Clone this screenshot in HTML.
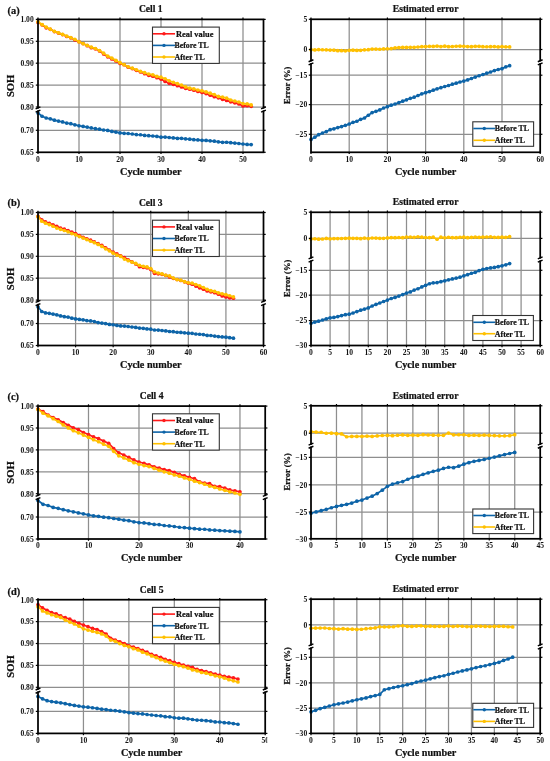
<!DOCTYPE html>
<html><head><meta charset="utf-8"><style>
html,body{margin:0;padding:0;background:#fff;}
body{width:550px;height:761px;overflow:hidden;}
svg{display:block;will-change:transform;}
text{font-family:"Liberation Serif",serif;fill:#111;}
</style></head><body>
<svg width="550" height="761" viewBox="0 0 550 761" font-family="Liberation Serif, serif">
<rect width="550" height="761" fill="#fff"/>
<line x1="79.00" y1="19.40" x2="79.00" y2="152.30" stroke="#8e8e8e" stroke-width="1.25"/>
<line x1="120.00" y1="19.40" x2="120.00" y2="152.30" stroke="#8e8e8e" stroke-width="1.25"/>
<line x1="161.00" y1="19.40" x2="161.00" y2="152.30" stroke="#8e8e8e" stroke-width="1.25"/>
<line x1="202.00" y1="19.40" x2="202.00" y2="152.30" stroke="#8e8e8e" stroke-width="1.25"/>
<line x1="243.00" y1="19.40" x2="243.00" y2="152.30" stroke="#8e8e8e" stroke-width="1.25"/>
<line x1="38.00" y1="41.30" x2="263.50" y2="41.30" stroke="#8e8e8e" stroke-width="1.25"/>
<line x1="38.00" y1="63.20" x2="263.50" y2="63.20" stroke="#8e8e8e" stroke-width="1.25"/>
<line x1="38.00" y1="85.10" x2="263.50" y2="85.10" stroke="#8e8e8e" stroke-width="1.25"/>
<line x1="38.00" y1="107.00" x2="263.50" y2="107.00" stroke="#8e8e8e" stroke-width="1.25"/>
<line x1="38.00" y1="130.30" x2="263.50" y2="130.30" stroke="#8e8e8e" stroke-width="1.25"/>
<polyline points="38.00,22.38 42.10,24.86 46.20,27.81 50.30,29.30 54.40,31.53 58.50,33.11 62.60,34.59 66.70,36.51 70.80,37.78 74.90,40.00 79.00,41.70 83.10,43.56 87.20,45.65 91.30,47.63 95.40,48.84 99.50,50.91 103.60,53.99 107.70,56.81 111.80,58.95 115.90,60.93 120.00,63.43 124.10,64.68 128.20,67.15 132.30,68.60 136.40,70.35 140.50,71.93 144.60,73.67 148.70,75.32 152.80,76.18 156.90,77.76 161.00,79.10 165.10,81.41 169.20,83.33 173.30,84.34 177.40,85.69 181.50,86.89 185.60,88.33 189.70,89.20 193.80,90.17 197.90,91.46 202.00,92.47 206.10,93.61 210.20,95.21 214.30,96.64 218.40,97.82 222.50,99.30 226.60,100.52 230.70,101.86 234.80,102.86 238.90,104.00 243.00,105.94 247.10,105.73 251.20,106.34" fill="none" stroke="#ff1a1a" stroke-width="1.70" stroke-linejoin="round"/>
<circle cx="38.00" cy="22.38" r="1.85" fill="#ff1a1a"/>
<circle cx="42.10" cy="24.86" r="1.85" fill="#ff1a1a"/>
<circle cx="46.20" cy="27.81" r="1.85" fill="#ff1a1a"/>
<circle cx="50.30" cy="29.30" r="1.85" fill="#ff1a1a"/>
<circle cx="54.40" cy="31.53" r="1.85" fill="#ff1a1a"/>
<circle cx="58.50" cy="33.11" r="1.85" fill="#ff1a1a"/>
<circle cx="62.60" cy="34.59" r="1.85" fill="#ff1a1a"/>
<circle cx="66.70" cy="36.51" r="1.85" fill="#ff1a1a"/>
<circle cx="70.80" cy="37.78" r="1.85" fill="#ff1a1a"/>
<circle cx="74.90" cy="40.00" r="1.85" fill="#ff1a1a"/>
<circle cx="79.00" cy="41.70" r="1.85" fill="#ff1a1a"/>
<circle cx="83.10" cy="43.56" r="1.85" fill="#ff1a1a"/>
<circle cx="87.20" cy="45.65" r="1.85" fill="#ff1a1a"/>
<circle cx="91.30" cy="47.63" r="1.85" fill="#ff1a1a"/>
<circle cx="95.40" cy="48.84" r="1.85" fill="#ff1a1a"/>
<circle cx="99.50" cy="50.91" r="1.85" fill="#ff1a1a"/>
<circle cx="103.60" cy="53.99" r="1.85" fill="#ff1a1a"/>
<circle cx="107.70" cy="56.81" r="1.85" fill="#ff1a1a"/>
<circle cx="111.80" cy="58.95" r="1.85" fill="#ff1a1a"/>
<circle cx="115.90" cy="60.93" r="1.85" fill="#ff1a1a"/>
<circle cx="120.00" cy="63.43" r="1.85" fill="#ff1a1a"/>
<circle cx="124.10" cy="64.68" r="1.85" fill="#ff1a1a"/>
<circle cx="128.20" cy="67.15" r="1.85" fill="#ff1a1a"/>
<circle cx="132.30" cy="68.60" r="1.85" fill="#ff1a1a"/>
<circle cx="136.40" cy="70.35" r="1.85" fill="#ff1a1a"/>
<circle cx="140.50" cy="71.93" r="1.85" fill="#ff1a1a"/>
<circle cx="144.60" cy="73.67" r="1.85" fill="#ff1a1a"/>
<circle cx="148.70" cy="75.32" r="1.85" fill="#ff1a1a"/>
<circle cx="152.80" cy="76.18" r="1.85" fill="#ff1a1a"/>
<circle cx="156.90" cy="77.76" r="1.85" fill="#ff1a1a"/>
<circle cx="161.00" cy="79.10" r="1.85" fill="#ff1a1a"/>
<circle cx="165.10" cy="81.41" r="1.85" fill="#ff1a1a"/>
<circle cx="169.20" cy="83.33" r="1.85" fill="#ff1a1a"/>
<circle cx="173.30" cy="84.34" r="1.85" fill="#ff1a1a"/>
<circle cx="177.40" cy="85.69" r="1.85" fill="#ff1a1a"/>
<circle cx="181.50" cy="86.89" r="1.85" fill="#ff1a1a"/>
<circle cx="185.60" cy="88.33" r="1.85" fill="#ff1a1a"/>
<circle cx="189.70" cy="89.20" r="1.85" fill="#ff1a1a"/>
<circle cx="193.80" cy="90.17" r="1.85" fill="#ff1a1a"/>
<circle cx="197.90" cy="91.46" r="1.85" fill="#ff1a1a"/>
<circle cx="202.00" cy="92.47" r="1.85" fill="#ff1a1a"/>
<circle cx="206.10" cy="93.61" r="1.85" fill="#ff1a1a"/>
<circle cx="210.20" cy="95.21" r="1.85" fill="#ff1a1a"/>
<circle cx="214.30" cy="96.64" r="1.85" fill="#ff1a1a"/>
<circle cx="218.40" cy="97.82" r="1.85" fill="#ff1a1a"/>
<circle cx="222.50" cy="99.30" r="1.85" fill="#ff1a1a"/>
<circle cx="226.60" cy="100.52" r="1.85" fill="#ff1a1a"/>
<circle cx="230.70" cy="101.86" r="1.85" fill="#ff1a1a"/>
<circle cx="234.80" cy="102.86" r="1.85" fill="#ff1a1a"/>
<circle cx="238.90" cy="104.00" r="1.85" fill="#ff1a1a"/>
<circle cx="243.00" cy="105.94" r="1.85" fill="#ff1a1a"/>
<circle cx="247.10" cy="105.73" r="1.85" fill="#ff1a1a"/>
<circle cx="251.20" cy="106.34" r="1.85" fill="#ff1a1a"/>
<polyline points="38.00,112.93 42.10,116.23 46.20,117.99 50.30,118.87 54.40,120.13 58.50,121.12 62.60,121.97 66.70,123.06 70.80,123.72 74.90,124.85 79.00,125.75 83.10,126.44 87.20,127.08 91.30,127.97 95.40,128.72 99.50,129.19 103.60,129.98 107.70,130.38 111.80,131.40 115.90,132.07 120.00,132.95 124.10,133.32 128.20,133.51 132.30,134.02 136.40,134.62 140.50,134.76 144.60,135.38 148.70,135.63 152.80,136.01 156.90,136.38 161.00,137.13 165.10,137.12 169.20,137.49 173.30,137.88 177.40,138.43 181.50,138.34 185.60,138.83 189.70,139.19 193.80,139.67 197.90,139.95 202.00,140.28 206.10,140.38 210.20,140.84 214.30,141.20 218.40,141.85 222.50,142.28 226.60,142.27 230.70,142.67 234.80,143.09 238.90,143.48 243.00,143.99 247.10,144.39 251.20,144.58" fill="none" stroke="#0d64a8" stroke-width="1.70" stroke-linejoin="round"/>
<circle cx="38.00" cy="112.93" r="1.85" fill="#0d64a8"/>
<circle cx="42.10" cy="116.23" r="1.85" fill="#0d64a8"/>
<circle cx="46.20" cy="117.99" r="1.85" fill="#0d64a8"/>
<circle cx="50.30" cy="118.87" r="1.85" fill="#0d64a8"/>
<circle cx="54.40" cy="120.13" r="1.85" fill="#0d64a8"/>
<circle cx="58.50" cy="121.12" r="1.85" fill="#0d64a8"/>
<circle cx="62.60" cy="121.97" r="1.85" fill="#0d64a8"/>
<circle cx="66.70" cy="123.06" r="1.85" fill="#0d64a8"/>
<circle cx="70.80" cy="123.72" r="1.85" fill="#0d64a8"/>
<circle cx="74.90" cy="124.85" r="1.85" fill="#0d64a8"/>
<circle cx="79.00" cy="125.75" r="1.85" fill="#0d64a8"/>
<circle cx="83.10" cy="126.44" r="1.85" fill="#0d64a8"/>
<circle cx="87.20" cy="127.08" r="1.85" fill="#0d64a8"/>
<circle cx="91.30" cy="127.97" r="1.85" fill="#0d64a8"/>
<circle cx="95.40" cy="128.72" r="1.85" fill="#0d64a8"/>
<circle cx="99.50" cy="129.19" r="1.85" fill="#0d64a8"/>
<circle cx="103.60" cy="129.98" r="1.85" fill="#0d64a8"/>
<circle cx="107.70" cy="130.38" r="1.85" fill="#0d64a8"/>
<circle cx="111.80" cy="131.40" r="1.85" fill="#0d64a8"/>
<circle cx="115.90" cy="132.07" r="1.85" fill="#0d64a8"/>
<circle cx="120.00" cy="132.95" r="1.85" fill="#0d64a8"/>
<circle cx="124.10" cy="133.32" r="1.85" fill="#0d64a8"/>
<circle cx="128.20" cy="133.51" r="1.85" fill="#0d64a8"/>
<circle cx="132.30" cy="134.02" r="1.85" fill="#0d64a8"/>
<circle cx="136.40" cy="134.62" r="1.85" fill="#0d64a8"/>
<circle cx="140.50" cy="134.76" r="1.85" fill="#0d64a8"/>
<circle cx="144.60" cy="135.38" r="1.85" fill="#0d64a8"/>
<circle cx="148.70" cy="135.63" r="1.85" fill="#0d64a8"/>
<circle cx="152.80" cy="136.01" r="1.85" fill="#0d64a8"/>
<circle cx="156.90" cy="136.38" r="1.85" fill="#0d64a8"/>
<circle cx="161.00" cy="137.13" r="1.85" fill="#0d64a8"/>
<circle cx="165.10" cy="137.12" r="1.85" fill="#0d64a8"/>
<circle cx="169.20" cy="137.49" r="1.85" fill="#0d64a8"/>
<circle cx="173.30" cy="137.88" r="1.85" fill="#0d64a8"/>
<circle cx="177.40" cy="138.43" r="1.85" fill="#0d64a8"/>
<circle cx="181.50" cy="138.34" r="1.85" fill="#0d64a8"/>
<circle cx="185.60" cy="138.83" r="1.85" fill="#0d64a8"/>
<circle cx="189.70" cy="139.19" r="1.85" fill="#0d64a8"/>
<circle cx="193.80" cy="139.67" r="1.85" fill="#0d64a8"/>
<circle cx="197.90" cy="139.95" r="1.85" fill="#0d64a8"/>
<circle cx="202.00" cy="140.28" r="1.85" fill="#0d64a8"/>
<circle cx="206.10" cy="140.38" r="1.85" fill="#0d64a8"/>
<circle cx="210.20" cy="140.84" r="1.85" fill="#0d64a8"/>
<circle cx="214.30" cy="141.20" r="1.85" fill="#0d64a8"/>
<circle cx="218.40" cy="141.85" r="1.85" fill="#0d64a8"/>
<circle cx="222.50" cy="142.28" r="1.85" fill="#0d64a8"/>
<circle cx="226.60" cy="142.27" r="1.85" fill="#0d64a8"/>
<circle cx="230.70" cy="142.67" r="1.85" fill="#0d64a8"/>
<circle cx="234.80" cy="143.09" r="1.85" fill="#0d64a8"/>
<circle cx="238.90" cy="143.48" r="1.85" fill="#0d64a8"/>
<circle cx="243.00" cy="143.99" r="1.85" fill="#0d64a8"/>
<circle cx="247.10" cy="144.39" r="1.85" fill="#0d64a8"/>
<circle cx="251.20" cy="144.58" r="1.85" fill="#0d64a8"/>
<polyline points="38.00,21.65 42.10,24.54 46.20,27.11 50.30,29.15 54.40,31.32 58.50,32.83 62.60,34.41 66.70,36.08 70.80,37.72 74.90,39.24 79.00,41.78 83.10,43.55 87.20,45.46 91.30,47.11 95.40,48.52 99.50,50.53 103.60,53.12 107.70,56.09 111.80,58.09 115.90,60.35 120.00,62.70 124.10,64.66 128.20,66.79 132.30,68.19 136.40,69.75 140.50,71.31 144.60,72.72 148.70,74.00 152.80,74.87 156.90,76.41 161.00,77.18 165.10,78.75 169.20,80.73 173.30,82.24 177.40,83.70 181.50,84.99 185.60,86.94 189.70,88.15 193.80,88.88 197.90,89.99 202.00,90.81 206.10,91.92 210.20,93.19 214.30,94.59 218.40,96.43 222.50,97.06 226.60,98.07 230.70,100.02 234.80,101.02 238.90,102.00 243.00,103.53 247.10,103.87 251.20,104.92" fill="none" stroke="#ffc000" stroke-width="1.70" stroke-linejoin="round"/>
<circle cx="38.00" cy="21.65" r="1.85" fill="#ffc000"/>
<circle cx="42.10" cy="24.54" r="1.85" fill="#ffc000"/>
<circle cx="46.20" cy="27.11" r="1.85" fill="#ffc000"/>
<circle cx="50.30" cy="29.15" r="1.85" fill="#ffc000"/>
<circle cx="54.40" cy="31.32" r="1.85" fill="#ffc000"/>
<circle cx="58.50" cy="32.83" r="1.85" fill="#ffc000"/>
<circle cx="62.60" cy="34.41" r="1.85" fill="#ffc000"/>
<circle cx="66.70" cy="36.08" r="1.85" fill="#ffc000"/>
<circle cx="70.80" cy="37.72" r="1.85" fill="#ffc000"/>
<circle cx="74.90" cy="39.24" r="1.85" fill="#ffc000"/>
<circle cx="79.00" cy="41.78" r="1.85" fill="#ffc000"/>
<circle cx="83.10" cy="43.55" r="1.85" fill="#ffc000"/>
<circle cx="87.20" cy="45.46" r="1.85" fill="#ffc000"/>
<circle cx="91.30" cy="47.11" r="1.85" fill="#ffc000"/>
<circle cx="95.40" cy="48.52" r="1.85" fill="#ffc000"/>
<circle cx="99.50" cy="50.53" r="1.85" fill="#ffc000"/>
<circle cx="103.60" cy="53.12" r="1.85" fill="#ffc000"/>
<circle cx="107.70" cy="56.09" r="1.85" fill="#ffc000"/>
<circle cx="111.80" cy="58.09" r="1.85" fill="#ffc000"/>
<circle cx="115.90" cy="60.35" r="1.85" fill="#ffc000"/>
<circle cx="120.00" cy="62.70" r="1.85" fill="#ffc000"/>
<circle cx="124.10" cy="64.66" r="1.85" fill="#ffc000"/>
<circle cx="128.20" cy="66.79" r="1.85" fill="#ffc000"/>
<circle cx="132.30" cy="68.19" r="1.85" fill="#ffc000"/>
<circle cx="136.40" cy="69.75" r="1.85" fill="#ffc000"/>
<circle cx="140.50" cy="71.31" r="1.85" fill="#ffc000"/>
<circle cx="144.60" cy="72.72" r="1.85" fill="#ffc000"/>
<circle cx="148.70" cy="74.00" r="1.85" fill="#ffc000"/>
<circle cx="152.80" cy="74.87" r="1.85" fill="#ffc000"/>
<circle cx="156.90" cy="76.41" r="1.85" fill="#ffc000"/>
<circle cx="161.00" cy="77.18" r="1.85" fill="#ffc000"/>
<circle cx="165.10" cy="78.75" r="1.85" fill="#ffc000"/>
<circle cx="169.20" cy="80.73" r="1.85" fill="#ffc000"/>
<circle cx="173.30" cy="82.24" r="1.85" fill="#ffc000"/>
<circle cx="177.40" cy="83.70" r="1.85" fill="#ffc000"/>
<circle cx="181.50" cy="84.99" r="1.85" fill="#ffc000"/>
<circle cx="185.60" cy="86.94" r="1.85" fill="#ffc000"/>
<circle cx="189.70" cy="88.15" r="1.85" fill="#ffc000"/>
<circle cx="193.80" cy="88.88" r="1.85" fill="#ffc000"/>
<circle cx="197.90" cy="89.99" r="1.85" fill="#ffc000"/>
<circle cx="202.00" cy="90.81" r="1.85" fill="#ffc000"/>
<circle cx="206.10" cy="91.92" r="1.85" fill="#ffc000"/>
<circle cx="210.20" cy="93.19" r="1.85" fill="#ffc000"/>
<circle cx="214.30" cy="94.59" r="1.85" fill="#ffc000"/>
<circle cx="218.40" cy="96.43" r="1.85" fill="#ffc000"/>
<circle cx="222.50" cy="97.06" r="1.85" fill="#ffc000"/>
<circle cx="226.60" cy="98.07" r="1.85" fill="#ffc000"/>
<circle cx="230.70" cy="100.02" r="1.85" fill="#ffc000"/>
<circle cx="234.80" cy="101.02" r="1.85" fill="#ffc000"/>
<circle cx="238.90" cy="102.00" r="1.85" fill="#ffc000"/>
<circle cx="243.00" cy="103.53" r="1.85" fill="#ffc000"/>
<circle cx="247.10" cy="103.87" r="1.85" fill="#ffc000"/>
<circle cx="251.20" cy="104.92" r="1.85" fill="#ffc000"/>
<rect x="38.00" y="19.40" width="225.50" height="132.90" fill="none" stroke="#000" stroke-width="1.75"/>
<line x1="35.80" y1="19.40" x2="38.00" y2="19.40" stroke="#000" stroke-width="1.2"/>
<line x1="263.50" y1="19.40" x2="265.70" y2="19.40" stroke="#000" stroke-width="1.2"/>
<text x="33.70" y="22.20" font-size="7.60" font-weight="bold" text-anchor="end" >1.00</text>
<line x1="35.80" y1="41.30" x2="38.00" y2="41.30" stroke="#000" stroke-width="1.2"/>
<line x1="263.50" y1="41.30" x2="265.70" y2="41.30" stroke="#000" stroke-width="1.2"/>
<text x="33.70" y="44.10" font-size="7.60" font-weight="bold" text-anchor="end" >0.95</text>
<line x1="35.80" y1="63.20" x2="38.00" y2="63.20" stroke="#000" stroke-width="1.2"/>
<line x1="263.50" y1="63.20" x2="265.70" y2="63.20" stroke="#000" stroke-width="1.2"/>
<text x="33.70" y="66.00" font-size="7.60" font-weight="bold" text-anchor="end" >0.90</text>
<line x1="35.80" y1="85.10" x2="38.00" y2="85.10" stroke="#000" stroke-width="1.2"/>
<line x1="263.50" y1="85.10" x2="265.70" y2="85.10" stroke="#000" stroke-width="1.2"/>
<text x="33.70" y="87.90" font-size="7.60" font-weight="bold" text-anchor="end" >0.85</text>
<line x1="35.80" y1="107.00" x2="38.00" y2="107.00" stroke="#000" stroke-width="1.2"/>
<line x1="263.50" y1="107.00" x2="265.70" y2="107.00" stroke="#000" stroke-width="1.2"/>
<text x="33.70" y="109.80" font-size="7.60" font-weight="bold" text-anchor="end" >0.80</text>
<line x1="35.80" y1="130.30" x2="38.00" y2="130.30" stroke="#000" stroke-width="1.2"/>
<line x1="263.50" y1="130.30" x2="265.70" y2="130.30" stroke="#000" stroke-width="1.2"/>
<text x="33.70" y="133.10" font-size="7.60" font-weight="bold" text-anchor="end" >0.70</text>
<line x1="35.80" y1="152.30" x2="38.00" y2="152.30" stroke="#000" stroke-width="1.2"/>
<line x1="263.50" y1="152.30" x2="265.70" y2="152.30" stroke="#000" stroke-width="1.2"/>
<text x="33.70" y="155.10" font-size="7.60" font-weight="bold" text-anchor="end" >0.65</text>
<line x1="38.00" y1="152.30" x2="38.00" y2="154.10" stroke="#000" stroke-width="1.2"/>
<line x1="38.00" y1="17.60" x2="38.00" y2="19.40" stroke="#000" stroke-width="1.2"/>
<text x="38.00" y="161.60" font-size="7.60" font-weight="bold" text-anchor="middle" >0</text>
<line x1="79.00" y1="152.30" x2="79.00" y2="154.10" stroke="#000" stroke-width="1.2"/>
<line x1="79.00" y1="17.60" x2="79.00" y2="19.40" stroke="#000" stroke-width="1.2"/>
<text x="79.00" y="161.60" font-size="7.60" font-weight="bold" text-anchor="middle" >10</text>
<line x1="120.00" y1="152.30" x2="120.00" y2="154.10" stroke="#000" stroke-width="1.2"/>
<line x1="120.00" y1="17.60" x2="120.00" y2="19.40" stroke="#000" stroke-width="1.2"/>
<text x="120.00" y="161.60" font-size="7.60" font-weight="bold" text-anchor="middle" >20</text>
<line x1="161.00" y1="152.30" x2="161.00" y2="154.10" stroke="#000" stroke-width="1.2"/>
<line x1="161.00" y1="17.60" x2="161.00" y2="19.40" stroke="#000" stroke-width="1.2"/>
<text x="161.00" y="161.60" font-size="7.60" font-weight="bold" text-anchor="middle" >30</text>
<line x1="202.00" y1="152.30" x2="202.00" y2="154.10" stroke="#000" stroke-width="1.2"/>
<line x1="202.00" y1="17.60" x2="202.00" y2="19.40" stroke="#000" stroke-width="1.2"/>
<text x="202.00" y="161.60" font-size="7.60" font-weight="bold" text-anchor="middle" >40</text>
<line x1="243.00" y1="152.30" x2="243.00" y2="154.10" stroke="#000" stroke-width="1.2"/>
<line x1="243.00" y1="17.60" x2="243.00" y2="19.40" stroke="#000" stroke-width="1.2"/>
<text x="243.00" y="161.60" font-size="7.60" font-weight="bold" text-anchor="middle" >50</text>
<rect x="36.20" y="108.60" width="3.6" height="1.8" fill="#fff"/>
<path d="M35.60,108.90 L40.40,106.90 M35.60,112.10 L40.40,110.10" fill="none" stroke="#000" stroke-width="1.5"/>
<rect x="261.70" y="108.60" width="3.6" height="1.8" fill="#fff"/>
<path d="M261.10,108.90 L265.90,106.90 M261.10,112.10 L265.90,110.10" fill="none" stroke="#000" stroke-width="1.5"/>
<text x="150.75" y="174.70" font-size="10.20" font-weight="bold" text-anchor="middle"  stroke="#111" stroke-width="0.22">Cycle number</text>
<text x="150.75" y="12.40" font-size="9.60" font-weight="bold" text-anchor="middle"  stroke="#111" stroke-width="0.22">Cell 1</text>
<text x="0" y="0" font-size="10.60" font-weight="bold" text-anchor="middle" stroke="#111" stroke-width="0.22" transform="translate(14.3,85.85) rotate(-90)">SOH</text>
<text x="7.50" y="13.60" font-size="10.40" font-weight="bold" text-anchor="start"  stroke="#111" stroke-width="0.22">(a)</text>
<rect x="152.50" y="27.10" width="66.80" height="36.30" fill="#fff" stroke="#333" stroke-width="1.1"/>
<line x1="153.00" y1="33.80" x2="175.00" y2="33.80" stroke="#ff1a1a" stroke-width="1.6"/>
<circle cx="164.00" cy="33.80" r="1.7" fill="#ff1a1a"/>
<text x="176.00" y="36.70" font-size="8.60" font-weight="bold" text-anchor="start" textLength="37.4" lengthAdjust="spacingAndGlyphs" stroke="#111" stroke-width="0.22">Real value</text>
<line x1="153.00" y1="45.40" x2="175.00" y2="45.40" stroke="#0d64a8" stroke-width="1.6"/>
<circle cx="164.00" cy="45.40" r="1.7" fill="#0d64a8"/>
<text x="174.50" y="48.30" font-size="8.60" font-weight="bold" text-anchor="start" textLength="34.2" lengthAdjust="spacingAndGlyphs" stroke="#111" stroke-width="0.22">Before TL</text>
<line x1="153.00" y1="57.00" x2="175.00" y2="57.00" stroke="#ffc000" stroke-width="1.6"/>
<circle cx="164.00" cy="57.00" r="1.7" fill="#ffc000"/>
<text x="174.50" y="59.90" font-size="8.60" font-weight="bold" text-anchor="start" textLength="30.2" lengthAdjust="spacingAndGlyphs" stroke="#111" stroke-width="0.22">After TL</text>
<line x1="75.58" y1="212.50" x2="75.58" y2="345.50" stroke="#8e8e8e" stroke-width="1.25"/>
<line x1="113.17" y1="212.50" x2="113.17" y2="345.50" stroke="#8e8e8e" stroke-width="1.25"/>
<line x1="150.75" y1="212.50" x2="150.75" y2="345.50" stroke="#8e8e8e" stroke-width="1.25"/>
<line x1="188.33" y1="212.50" x2="188.33" y2="345.50" stroke="#8e8e8e" stroke-width="1.25"/>
<line x1="225.92" y1="212.50" x2="225.92" y2="345.50" stroke="#8e8e8e" stroke-width="1.25"/>
<line x1="38.00" y1="234.40" x2="263.50" y2="234.40" stroke="#8e8e8e" stroke-width="1.25"/>
<line x1="38.00" y1="256.30" x2="263.50" y2="256.30" stroke="#8e8e8e" stroke-width="1.25"/>
<line x1="38.00" y1="278.20" x2="263.50" y2="278.20" stroke="#8e8e8e" stroke-width="1.25"/>
<line x1="38.00" y1="300.10" x2="263.50" y2="300.10" stroke="#8e8e8e" stroke-width="1.25"/>
<line x1="38.00" y1="323.50" x2="263.50" y2="323.50" stroke="#8e8e8e" stroke-width="1.25"/>
<polyline points="38.00,216.33 41.76,219.75 45.52,221.94 49.27,223.23 53.03,224.91 56.79,226.27 60.55,228.19 64.31,229.22 68.07,230.60 71.83,231.98 75.58,233.61 79.34,235.62 83.10,237.34 86.86,238.75 90.62,240.21 94.38,241.97 98.13,243.67 101.89,245.46 105.65,247.81 109.41,250.05 113.17,252.17 116.92,253.92 120.68,255.85 124.44,257.66 128.20,259.80 131.96,261.82 135.72,263.91 139.47,266.71 143.23,267.29 146.99,267.82 150.75,269.41 154.51,273.30 158.27,273.81 162.03,274.29 165.78,275.44 169.54,276.89 173.30,278.32 177.06,279.52 180.82,280.51 184.57,281.87 188.33,283.21 192.09,284.21 195.85,286.11 199.61,287.79 203.37,289.20 207.12,290.98 210.88,291.85 214.64,292.71 218.40,294.20 222.16,295.88 225.92,296.98 229.68,297.86 233.43,298.23" fill="none" stroke="#ff1a1a" stroke-width="1.70" stroke-linejoin="round"/>
<circle cx="38.00" cy="216.33" r="1.85" fill="#ff1a1a"/>
<circle cx="41.76" cy="219.75" r="1.85" fill="#ff1a1a"/>
<circle cx="45.52" cy="221.94" r="1.85" fill="#ff1a1a"/>
<circle cx="49.27" cy="223.23" r="1.85" fill="#ff1a1a"/>
<circle cx="53.03" cy="224.91" r="1.85" fill="#ff1a1a"/>
<circle cx="56.79" cy="226.27" r="1.85" fill="#ff1a1a"/>
<circle cx="60.55" cy="228.19" r="1.85" fill="#ff1a1a"/>
<circle cx="64.31" cy="229.22" r="1.85" fill="#ff1a1a"/>
<circle cx="68.07" cy="230.60" r="1.85" fill="#ff1a1a"/>
<circle cx="71.83" cy="231.98" r="1.85" fill="#ff1a1a"/>
<circle cx="75.58" cy="233.61" r="1.85" fill="#ff1a1a"/>
<circle cx="79.34" cy="235.62" r="1.85" fill="#ff1a1a"/>
<circle cx="83.10" cy="237.34" r="1.85" fill="#ff1a1a"/>
<circle cx="86.86" cy="238.75" r="1.85" fill="#ff1a1a"/>
<circle cx="90.62" cy="240.21" r="1.85" fill="#ff1a1a"/>
<circle cx="94.38" cy="241.97" r="1.85" fill="#ff1a1a"/>
<circle cx="98.13" cy="243.67" r="1.85" fill="#ff1a1a"/>
<circle cx="101.89" cy="245.46" r="1.85" fill="#ff1a1a"/>
<circle cx="105.65" cy="247.81" r="1.85" fill="#ff1a1a"/>
<circle cx="109.41" cy="250.05" r="1.85" fill="#ff1a1a"/>
<circle cx="113.17" cy="252.17" r="1.85" fill="#ff1a1a"/>
<circle cx="116.92" cy="253.92" r="1.85" fill="#ff1a1a"/>
<circle cx="120.68" cy="255.85" r="1.85" fill="#ff1a1a"/>
<circle cx="124.44" cy="257.66" r="1.85" fill="#ff1a1a"/>
<circle cx="128.20" cy="259.80" r="1.85" fill="#ff1a1a"/>
<circle cx="131.96" cy="261.82" r="1.85" fill="#ff1a1a"/>
<circle cx="135.72" cy="263.91" r="1.85" fill="#ff1a1a"/>
<circle cx="139.47" cy="266.71" r="1.85" fill="#ff1a1a"/>
<circle cx="143.23" cy="267.29" r="1.85" fill="#ff1a1a"/>
<circle cx="146.99" cy="267.82" r="1.85" fill="#ff1a1a"/>
<circle cx="150.75" cy="269.41" r="1.85" fill="#ff1a1a"/>
<circle cx="154.51" cy="273.30" r="1.85" fill="#ff1a1a"/>
<circle cx="158.27" cy="273.81" r="1.85" fill="#ff1a1a"/>
<circle cx="162.03" cy="274.29" r="1.85" fill="#ff1a1a"/>
<circle cx="165.78" cy="275.44" r="1.85" fill="#ff1a1a"/>
<circle cx="169.54" cy="276.89" r="1.85" fill="#ff1a1a"/>
<circle cx="173.30" cy="278.32" r="1.85" fill="#ff1a1a"/>
<circle cx="177.06" cy="279.52" r="1.85" fill="#ff1a1a"/>
<circle cx="180.82" cy="280.51" r="1.85" fill="#ff1a1a"/>
<circle cx="184.57" cy="281.87" r="1.85" fill="#ff1a1a"/>
<circle cx="188.33" cy="283.21" r="1.85" fill="#ff1a1a"/>
<circle cx="192.09" cy="284.21" r="1.85" fill="#ff1a1a"/>
<circle cx="195.85" cy="286.11" r="1.85" fill="#ff1a1a"/>
<circle cx="199.61" cy="287.79" r="1.85" fill="#ff1a1a"/>
<circle cx="203.37" cy="289.20" r="1.85" fill="#ff1a1a"/>
<circle cx="207.12" cy="290.98" r="1.85" fill="#ff1a1a"/>
<circle cx="210.88" cy="291.85" r="1.85" fill="#ff1a1a"/>
<circle cx="214.64" cy="292.71" r="1.85" fill="#ff1a1a"/>
<circle cx="218.40" cy="294.20" r="1.85" fill="#ff1a1a"/>
<circle cx="222.16" cy="295.88" r="1.85" fill="#ff1a1a"/>
<circle cx="225.92" cy="296.98" r="1.85" fill="#ff1a1a"/>
<circle cx="229.68" cy="297.86" r="1.85" fill="#ff1a1a"/>
<circle cx="233.43" cy="298.23" r="1.85" fill="#ff1a1a"/>
<polyline points="38.00,306.75 41.76,311.52 45.52,312.91 49.27,313.37 53.03,314.09 56.79,314.84 60.55,315.95 64.31,316.64 68.07,317.05 71.83,318.13 75.58,318.94 79.34,319.39 83.10,319.85 86.86,320.55 90.62,320.96 94.38,321.51 98.13,322.60 101.89,323.04 105.65,323.59 109.41,324.41 113.17,324.77 116.92,325.45 120.68,325.88 124.44,326.04 128.20,326.52 131.96,327.00 135.72,327.43 139.47,328.06 143.23,328.36 146.99,328.90 150.75,329.22 154.51,329.99 158.27,330.09 162.03,330.52 165.78,330.96 169.54,331.50 173.30,331.64 177.06,332.27 180.82,332.44 184.57,332.84 188.33,333.21 192.09,333.37 195.85,333.99 199.61,334.27 203.37,334.59 207.12,335.39 210.88,335.49 214.64,336.05 218.40,336.58 222.16,336.90 225.92,337.20 229.68,337.70 233.43,338.13" fill="none" stroke="#0d64a8" stroke-width="1.70" stroke-linejoin="round"/>
<circle cx="38.00" cy="306.75" r="1.85" fill="#0d64a8"/>
<circle cx="41.76" cy="311.52" r="1.85" fill="#0d64a8"/>
<circle cx="45.52" cy="312.91" r="1.85" fill="#0d64a8"/>
<circle cx="49.27" cy="313.37" r="1.85" fill="#0d64a8"/>
<circle cx="53.03" cy="314.09" r="1.85" fill="#0d64a8"/>
<circle cx="56.79" cy="314.84" r="1.85" fill="#0d64a8"/>
<circle cx="60.55" cy="315.95" r="1.85" fill="#0d64a8"/>
<circle cx="64.31" cy="316.64" r="1.85" fill="#0d64a8"/>
<circle cx="68.07" cy="317.05" r="1.85" fill="#0d64a8"/>
<circle cx="71.83" cy="318.13" r="1.85" fill="#0d64a8"/>
<circle cx="75.58" cy="318.94" r="1.85" fill="#0d64a8"/>
<circle cx="79.34" cy="319.39" r="1.85" fill="#0d64a8"/>
<circle cx="83.10" cy="319.85" r="1.85" fill="#0d64a8"/>
<circle cx="86.86" cy="320.55" r="1.85" fill="#0d64a8"/>
<circle cx="90.62" cy="320.96" r="1.85" fill="#0d64a8"/>
<circle cx="94.38" cy="321.51" r="1.85" fill="#0d64a8"/>
<circle cx="98.13" cy="322.60" r="1.85" fill="#0d64a8"/>
<circle cx="101.89" cy="323.04" r="1.85" fill="#0d64a8"/>
<circle cx="105.65" cy="323.59" r="1.85" fill="#0d64a8"/>
<circle cx="109.41" cy="324.41" r="1.85" fill="#0d64a8"/>
<circle cx="113.17" cy="324.77" r="1.85" fill="#0d64a8"/>
<circle cx="116.92" cy="325.45" r="1.85" fill="#0d64a8"/>
<circle cx="120.68" cy="325.88" r="1.85" fill="#0d64a8"/>
<circle cx="124.44" cy="326.04" r="1.85" fill="#0d64a8"/>
<circle cx="128.20" cy="326.52" r="1.85" fill="#0d64a8"/>
<circle cx="131.96" cy="327.00" r="1.85" fill="#0d64a8"/>
<circle cx="135.72" cy="327.43" r="1.85" fill="#0d64a8"/>
<circle cx="139.47" cy="328.06" r="1.85" fill="#0d64a8"/>
<circle cx="143.23" cy="328.36" r="1.85" fill="#0d64a8"/>
<circle cx="146.99" cy="328.90" r="1.85" fill="#0d64a8"/>
<circle cx="150.75" cy="329.22" r="1.85" fill="#0d64a8"/>
<circle cx="154.51" cy="329.99" r="1.85" fill="#0d64a8"/>
<circle cx="158.27" cy="330.09" r="1.85" fill="#0d64a8"/>
<circle cx="162.03" cy="330.52" r="1.85" fill="#0d64a8"/>
<circle cx="165.78" cy="330.96" r="1.85" fill="#0d64a8"/>
<circle cx="169.54" cy="331.50" r="1.85" fill="#0d64a8"/>
<circle cx="173.30" cy="331.64" r="1.85" fill="#0d64a8"/>
<circle cx="177.06" cy="332.27" r="1.85" fill="#0d64a8"/>
<circle cx="180.82" cy="332.44" r="1.85" fill="#0d64a8"/>
<circle cx="184.57" cy="332.84" r="1.85" fill="#0d64a8"/>
<circle cx="188.33" cy="333.21" r="1.85" fill="#0d64a8"/>
<circle cx="192.09" cy="333.37" r="1.85" fill="#0d64a8"/>
<circle cx="195.85" cy="333.99" r="1.85" fill="#0d64a8"/>
<circle cx="199.61" cy="334.27" r="1.85" fill="#0d64a8"/>
<circle cx="203.37" cy="334.59" r="1.85" fill="#0d64a8"/>
<circle cx="207.12" cy="335.39" r="1.85" fill="#0d64a8"/>
<circle cx="210.88" cy="335.49" r="1.85" fill="#0d64a8"/>
<circle cx="214.64" cy="336.05" r="1.85" fill="#0d64a8"/>
<circle cx="218.40" cy="336.58" r="1.85" fill="#0d64a8"/>
<circle cx="222.16" cy="336.90" r="1.85" fill="#0d64a8"/>
<circle cx="225.92" cy="337.20" r="1.85" fill="#0d64a8"/>
<circle cx="229.68" cy="337.70" r="1.85" fill="#0d64a8"/>
<circle cx="233.43" cy="338.13" r="1.85" fill="#0d64a8"/>
<polyline points="38.00,216.70 41.76,221.22 45.52,223.14 49.27,224.57 53.03,226.24 56.79,228.04 60.55,229.31 64.31,230.49 68.07,231.78 71.83,233.54 75.58,234.86 79.34,236.58 83.10,238.10 86.86,239.61 90.62,241.23 94.38,242.72 98.13,244.42 101.89,246.43 105.65,248.81 109.41,250.84 113.17,253.16 116.92,255.06 120.68,256.43 124.44,259.04 128.20,260.71 131.96,262.04 135.72,263.40 139.47,265.24 143.23,266.31 146.99,266.90 150.75,268.62 154.51,271.80 158.27,273.02 162.03,273.90 165.78,275.23 169.54,275.96 173.30,278.00 177.06,279.61 180.82,280.22 184.57,281.70 188.33,282.73 192.09,283.10 195.85,284.52 199.61,285.78 203.37,287.49 207.12,289.29 210.88,290.63 214.64,291.41 218.40,292.85 222.16,293.86 225.92,294.69 229.68,295.74 233.43,296.97" fill="none" stroke="#ffc000" stroke-width="1.70" stroke-linejoin="round"/>
<circle cx="38.00" cy="216.70" r="1.85" fill="#ffc000"/>
<circle cx="41.76" cy="221.22" r="1.85" fill="#ffc000"/>
<circle cx="45.52" cy="223.14" r="1.85" fill="#ffc000"/>
<circle cx="49.27" cy="224.57" r="1.85" fill="#ffc000"/>
<circle cx="53.03" cy="226.24" r="1.85" fill="#ffc000"/>
<circle cx="56.79" cy="228.04" r="1.85" fill="#ffc000"/>
<circle cx="60.55" cy="229.31" r="1.85" fill="#ffc000"/>
<circle cx="64.31" cy="230.49" r="1.85" fill="#ffc000"/>
<circle cx="68.07" cy="231.78" r="1.85" fill="#ffc000"/>
<circle cx="71.83" cy="233.54" r="1.85" fill="#ffc000"/>
<circle cx="75.58" cy="234.86" r="1.85" fill="#ffc000"/>
<circle cx="79.34" cy="236.58" r="1.85" fill="#ffc000"/>
<circle cx="83.10" cy="238.10" r="1.85" fill="#ffc000"/>
<circle cx="86.86" cy="239.61" r="1.85" fill="#ffc000"/>
<circle cx="90.62" cy="241.23" r="1.85" fill="#ffc000"/>
<circle cx="94.38" cy="242.72" r="1.85" fill="#ffc000"/>
<circle cx="98.13" cy="244.42" r="1.85" fill="#ffc000"/>
<circle cx="101.89" cy="246.43" r="1.85" fill="#ffc000"/>
<circle cx="105.65" cy="248.81" r="1.85" fill="#ffc000"/>
<circle cx="109.41" cy="250.84" r="1.85" fill="#ffc000"/>
<circle cx="113.17" cy="253.16" r="1.85" fill="#ffc000"/>
<circle cx="116.92" cy="255.06" r="1.85" fill="#ffc000"/>
<circle cx="120.68" cy="256.43" r="1.85" fill="#ffc000"/>
<circle cx="124.44" cy="259.04" r="1.85" fill="#ffc000"/>
<circle cx="128.20" cy="260.71" r="1.85" fill="#ffc000"/>
<circle cx="131.96" cy="262.04" r="1.85" fill="#ffc000"/>
<circle cx="135.72" cy="263.40" r="1.85" fill="#ffc000"/>
<circle cx="139.47" cy="265.24" r="1.85" fill="#ffc000"/>
<circle cx="143.23" cy="266.31" r="1.85" fill="#ffc000"/>
<circle cx="146.99" cy="266.90" r="1.85" fill="#ffc000"/>
<circle cx="150.75" cy="268.62" r="1.85" fill="#ffc000"/>
<circle cx="154.51" cy="271.80" r="1.85" fill="#ffc000"/>
<circle cx="158.27" cy="273.02" r="1.85" fill="#ffc000"/>
<circle cx="162.03" cy="273.90" r="1.85" fill="#ffc000"/>
<circle cx="165.78" cy="275.23" r="1.85" fill="#ffc000"/>
<circle cx="169.54" cy="275.96" r="1.85" fill="#ffc000"/>
<circle cx="173.30" cy="278.00" r="1.85" fill="#ffc000"/>
<circle cx="177.06" cy="279.61" r="1.85" fill="#ffc000"/>
<circle cx="180.82" cy="280.22" r="1.85" fill="#ffc000"/>
<circle cx="184.57" cy="281.70" r="1.85" fill="#ffc000"/>
<circle cx="188.33" cy="282.73" r="1.85" fill="#ffc000"/>
<circle cx="192.09" cy="283.10" r="1.85" fill="#ffc000"/>
<circle cx="195.85" cy="284.52" r="1.85" fill="#ffc000"/>
<circle cx="199.61" cy="285.78" r="1.85" fill="#ffc000"/>
<circle cx="203.37" cy="287.49" r="1.85" fill="#ffc000"/>
<circle cx="207.12" cy="289.29" r="1.85" fill="#ffc000"/>
<circle cx="210.88" cy="290.63" r="1.85" fill="#ffc000"/>
<circle cx="214.64" cy="291.41" r="1.85" fill="#ffc000"/>
<circle cx="218.40" cy="292.85" r="1.85" fill="#ffc000"/>
<circle cx="222.16" cy="293.86" r="1.85" fill="#ffc000"/>
<circle cx="225.92" cy="294.69" r="1.85" fill="#ffc000"/>
<circle cx="229.68" cy="295.74" r="1.85" fill="#ffc000"/>
<circle cx="233.43" cy="296.97" r="1.85" fill="#ffc000"/>
<rect x="38.00" y="212.50" width="225.50" height="133.00" fill="none" stroke="#000" stroke-width="1.75"/>
<line x1="35.80" y1="212.50" x2="38.00" y2="212.50" stroke="#000" stroke-width="1.2"/>
<line x1="263.50" y1="212.50" x2="265.70" y2="212.50" stroke="#000" stroke-width="1.2"/>
<text x="33.70" y="215.30" font-size="7.60" font-weight="bold" text-anchor="end" >1.00</text>
<line x1="35.80" y1="234.40" x2="38.00" y2="234.40" stroke="#000" stroke-width="1.2"/>
<line x1="263.50" y1="234.40" x2="265.70" y2="234.40" stroke="#000" stroke-width="1.2"/>
<text x="33.70" y="237.20" font-size="7.60" font-weight="bold" text-anchor="end" >0.95</text>
<line x1="35.80" y1="256.30" x2="38.00" y2="256.30" stroke="#000" stroke-width="1.2"/>
<line x1="263.50" y1="256.30" x2="265.70" y2="256.30" stroke="#000" stroke-width="1.2"/>
<text x="33.70" y="259.10" font-size="7.60" font-weight="bold" text-anchor="end" >0.90</text>
<line x1="35.80" y1="278.20" x2="38.00" y2="278.20" stroke="#000" stroke-width="1.2"/>
<line x1="263.50" y1="278.20" x2="265.70" y2="278.20" stroke="#000" stroke-width="1.2"/>
<text x="33.70" y="281.00" font-size="7.60" font-weight="bold" text-anchor="end" >0.85</text>
<line x1="35.80" y1="300.10" x2="38.00" y2="300.10" stroke="#000" stroke-width="1.2"/>
<line x1="263.50" y1="300.10" x2="265.70" y2="300.10" stroke="#000" stroke-width="1.2"/>
<text x="33.70" y="302.90" font-size="7.60" font-weight="bold" text-anchor="end" >0.80</text>
<line x1="35.80" y1="323.50" x2="38.00" y2="323.50" stroke="#000" stroke-width="1.2"/>
<line x1="263.50" y1="323.50" x2="265.70" y2="323.50" stroke="#000" stroke-width="1.2"/>
<text x="33.70" y="326.30" font-size="7.60" font-weight="bold" text-anchor="end" >0.70</text>
<line x1="35.80" y1="345.50" x2="38.00" y2="345.50" stroke="#000" stroke-width="1.2"/>
<line x1="263.50" y1="345.50" x2="265.70" y2="345.50" stroke="#000" stroke-width="1.2"/>
<text x="33.70" y="348.30" font-size="7.60" font-weight="bold" text-anchor="end" >0.65</text>
<line x1="38.00" y1="345.50" x2="38.00" y2="347.30" stroke="#000" stroke-width="1.2"/>
<line x1="38.00" y1="210.70" x2="38.00" y2="212.50" stroke="#000" stroke-width="1.2"/>
<text x="38.00" y="354.80" font-size="7.60" font-weight="bold" text-anchor="middle" >0</text>
<line x1="75.58" y1="345.50" x2="75.58" y2="347.30" stroke="#000" stroke-width="1.2"/>
<line x1="75.58" y1="210.70" x2="75.58" y2="212.50" stroke="#000" stroke-width="1.2"/>
<text x="75.58" y="354.80" font-size="7.60" font-weight="bold" text-anchor="middle" >10</text>
<line x1="113.17" y1="345.50" x2="113.17" y2="347.30" stroke="#000" stroke-width="1.2"/>
<line x1="113.17" y1="210.70" x2="113.17" y2="212.50" stroke="#000" stroke-width="1.2"/>
<text x="113.17" y="354.80" font-size="7.60" font-weight="bold" text-anchor="middle" >20</text>
<line x1="150.75" y1="345.50" x2="150.75" y2="347.30" stroke="#000" stroke-width="1.2"/>
<line x1="150.75" y1="210.70" x2="150.75" y2="212.50" stroke="#000" stroke-width="1.2"/>
<text x="150.75" y="354.80" font-size="7.60" font-weight="bold" text-anchor="middle" >30</text>
<line x1="188.33" y1="345.50" x2="188.33" y2="347.30" stroke="#000" stroke-width="1.2"/>
<line x1="188.33" y1="210.70" x2="188.33" y2="212.50" stroke="#000" stroke-width="1.2"/>
<text x="188.33" y="354.80" font-size="7.60" font-weight="bold" text-anchor="middle" >40</text>
<line x1="225.92" y1="345.50" x2="225.92" y2="347.30" stroke="#000" stroke-width="1.2"/>
<line x1="225.92" y1="210.70" x2="225.92" y2="212.50" stroke="#000" stroke-width="1.2"/>
<text x="225.92" y="354.80" font-size="7.60" font-weight="bold" text-anchor="middle" >50</text>
<line x1="263.50" y1="345.50" x2="263.50" y2="347.30" stroke="#000" stroke-width="1.2"/>
<line x1="263.50" y1="210.70" x2="263.50" y2="212.50" stroke="#000" stroke-width="1.2"/>
<text x="263.50" y="354.80" font-size="7.60" font-weight="bold" text-anchor="middle" >60</text>
<rect x="36.20" y="302.10" width="3.6" height="1.8" fill="#fff"/>
<path d="M35.60,302.40 L40.40,300.40 M35.60,305.60 L40.40,303.60" fill="none" stroke="#000" stroke-width="1.5"/>
<rect x="261.70" y="302.10" width="3.6" height="1.8" fill="#fff"/>
<path d="M261.10,302.40 L265.90,300.40 M261.10,305.60 L265.90,303.60" fill="none" stroke="#000" stroke-width="1.5"/>
<text x="150.75" y="367.90" font-size="10.20" font-weight="bold" text-anchor="middle"  stroke="#111" stroke-width="0.22">Cycle number</text>
<text x="150.75" y="205.50" font-size="9.60" font-weight="bold" text-anchor="middle"  stroke="#111" stroke-width="0.22">Cell 3</text>
<text x="0" y="0" font-size="10.60" font-weight="bold" text-anchor="middle" stroke="#111" stroke-width="0.22" transform="translate(14.3,279.00) rotate(-90)">SOH</text>
<text x="7.50" y="206.20" font-size="10.40" font-weight="bold" text-anchor="start"  stroke="#111" stroke-width="0.22">(b)</text>
<rect x="152.50" y="220.20" width="66.80" height="36.30" fill="#fff" stroke="#333" stroke-width="1.1"/>
<line x1="153.00" y1="226.90" x2="175.00" y2="226.90" stroke="#ff1a1a" stroke-width="1.6"/>
<circle cx="164.00" cy="226.90" r="1.7" fill="#ff1a1a"/>
<text x="176.00" y="229.80" font-size="8.60" font-weight="bold" text-anchor="start" textLength="37.4" lengthAdjust="spacingAndGlyphs" stroke="#111" stroke-width="0.22">Real value</text>
<line x1="153.00" y1="238.50" x2="175.00" y2="238.50" stroke="#0d64a8" stroke-width="1.6"/>
<circle cx="164.00" cy="238.50" r="1.7" fill="#0d64a8"/>
<text x="174.50" y="241.40" font-size="8.60" font-weight="bold" text-anchor="start" textLength="34.2" lengthAdjust="spacingAndGlyphs" stroke="#111" stroke-width="0.22">Before TL</text>
<line x1="153.00" y1="250.10" x2="175.00" y2="250.10" stroke="#ffc000" stroke-width="1.6"/>
<circle cx="164.00" cy="250.10" r="1.7" fill="#ffc000"/>
<text x="174.50" y="253.00" font-size="8.60" font-weight="bold" text-anchor="start" textLength="30.2" lengthAdjust="spacingAndGlyphs" stroke="#111" stroke-width="0.22">After TL</text>
<line x1="88.49" y1="406.10" x2="88.49" y2="539.00" stroke="#8e8e8e" stroke-width="1.25"/>
<line x1="138.98" y1="406.10" x2="138.98" y2="539.00" stroke="#8e8e8e" stroke-width="1.25"/>
<line x1="189.47" y1="406.10" x2="189.47" y2="539.00" stroke="#8e8e8e" stroke-width="1.25"/>
<line x1="239.96" y1="406.10" x2="239.96" y2="539.00" stroke="#8e8e8e" stroke-width="1.25"/>
<line x1="38.00" y1="428.00" x2="265.20" y2="428.00" stroke="#8e8e8e" stroke-width="1.25"/>
<line x1="38.00" y1="449.90" x2="265.20" y2="449.90" stroke="#8e8e8e" stroke-width="1.25"/>
<line x1="38.00" y1="471.80" x2="265.20" y2="471.80" stroke="#8e8e8e" stroke-width="1.25"/>
<line x1="38.00" y1="493.70" x2="265.20" y2="493.70" stroke="#8e8e8e" stroke-width="1.25"/>
<line x1="38.00" y1="517.00" x2="265.20" y2="517.00" stroke="#8e8e8e" stroke-width="1.25"/>
<polyline points="38.00,409.06 43.05,411.66 48.10,415.14 53.15,417.59 58.20,419.82 63.24,422.57 68.29,425.30 73.34,427.75 78.39,429.70 83.44,432.49 88.49,434.50 93.54,436.96 98.59,438.67 103.64,441.11 108.68,443.28 113.73,448.70 118.78,452.84 123.83,455.04 128.88,457.45 133.93,459.94 138.98,462.02 144.03,463.28 149.08,464.85 154.12,466.84 159.17,468.05 164.22,469.59 169.27,470.61 174.32,472.24 179.37,474.33 184.42,475.85 189.47,477.30 194.52,478.71 199.56,481.89 204.61,483.11 209.66,483.71 214.71,486.45 219.76,486.70 224.81,488.05 229.86,489.97 234.91,490.79 239.96,491.84" fill="none" stroke="#ff1a1a" stroke-width="1.70" stroke-linejoin="round"/>
<circle cx="38.00" cy="409.06" r="1.85" fill="#ff1a1a"/>
<circle cx="43.05" cy="411.66" r="1.85" fill="#ff1a1a"/>
<circle cx="48.10" cy="415.14" r="1.85" fill="#ff1a1a"/>
<circle cx="53.15" cy="417.59" r="1.85" fill="#ff1a1a"/>
<circle cx="58.20" cy="419.82" r="1.85" fill="#ff1a1a"/>
<circle cx="63.24" cy="422.57" r="1.85" fill="#ff1a1a"/>
<circle cx="68.29" cy="425.30" r="1.85" fill="#ff1a1a"/>
<circle cx="73.34" cy="427.75" r="1.85" fill="#ff1a1a"/>
<circle cx="78.39" cy="429.70" r="1.85" fill="#ff1a1a"/>
<circle cx="83.44" cy="432.49" r="1.85" fill="#ff1a1a"/>
<circle cx="88.49" cy="434.50" r="1.85" fill="#ff1a1a"/>
<circle cx="93.54" cy="436.96" r="1.85" fill="#ff1a1a"/>
<circle cx="98.59" cy="438.67" r="1.85" fill="#ff1a1a"/>
<circle cx="103.64" cy="441.11" r="1.85" fill="#ff1a1a"/>
<circle cx="108.68" cy="443.28" r="1.85" fill="#ff1a1a"/>
<circle cx="113.73" cy="448.70" r="1.85" fill="#ff1a1a"/>
<circle cx="118.78" cy="452.84" r="1.85" fill="#ff1a1a"/>
<circle cx="123.83" cy="455.04" r="1.85" fill="#ff1a1a"/>
<circle cx="128.88" cy="457.45" r="1.85" fill="#ff1a1a"/>
<circle cx="133.93" cy="459.94" r="1.85" fill="#ff1a1a"/>
<circle cx="138.98" cy="462.02" r="1.85" fill="#ff1a1a"/>
<circle cx="144.03" cy="463.28" r="1.85" fill="#ff1a1a"/>
<circle cx="149.08" cy="464.85" r="1.85" fill="#ff1a1a"/>
<circle cx="154.12" cy="466.84" r="1.85" fill="#ff1a1a"/>
<circle cx="159.17" cy="468.05" r="1.85" fill="#ff1a1a"/>
<circle cx="164.22" cy="469.59" r="1.85" fill="#ff1a1a"/>
<circle cx="169.27" cy="470.61" r="1.85" fill="#ff1a1a"/>
<circle cx="174.32" cy="472.24" r="1.85" fill="#ff1a1a"/>
<circle cx="179.37" cy="474.33" r="1.85" fill="#ff1a1a"/>
<circle cx="184.42" cy="475.85" r="1.85" fill="#ff1a1a"/>
<circle cx="189.47" cy="477.30" r="1.85" fill="#ff1a1a"/>
<circle cx="194.52" cy="478.71" r="1.85" fill="#ff1a1a"/>
<circle cx="199.56" cy="481.89" r="1.85" fill="#ff1a1a"/>
<circle cx="204.61" cy="483.11" r="1.85" fill="#ff1a1a"/>
<circle cx="209.66" cy="483.71" r="1.85" fill="#ff1a1a"/>
<circle cx="214.71" cy="486.45" r="1.85" fill="#ff1a1a"/>
<circle cx="219.76" cy="486.70" r="1.85" fill="#ff1a1a"/>
<circle cx="224.81" cy="488.05" r="1.85" fill="#ff1a1a"/>
<circle cx="229.86" cy="489.97" r="1.85" fill="#ff1a1a"/>
<circle cx="234.91" cy="490.79" r="1.85" fill="#ff1a1a"/>
<circle cx="239.96" cy="491.84" r="1.85" fill="#ff1a1a"/>
<polyline points="38.00,500.51 43.05,504.28 48.10,505.51 53.15,507.41 58.20,508.37 63.24,509.70 68.29,510.83 73.34,511.78 78.39,512.95 83.44,513.81 88.49,514.90 93.54,515.85 98.59,516.33 103.64,517.16 108.68,517.72 113.73,518.52 118.78,519.14 123.83,520.04 128.88,520.70 133.93,521.84 138.98,522.53 144.03,522.91 149.08,523.63 154.12,524.43 159.17,524.58 164.22,525.51 169.27,525.89 174.32,526.49 179.37,527.23 184.42,527.58 189.47,528.20 194.52,528.67 199.56,529.20 204.61,529.26 209.66,529.89 214.71,530.20 219.76,530.55 224.81,530.81 229.86,531.16 234.91,531.40 239.96,531.81" fill="none" stroke="#0d64a8" stroke-width="1.70" stroke-linejoin="round"/>
<circle cx="38.00" cy="500.51" r="1.85" fill="#0d64a8"/>
<circle cx="43.05" cy="504.28" r="1.85" fill="#0d64a8"/>
<circle cx="48.10" cy="505.51" r="1.85" fill="#0d64a8"/>
<circle cx="53.15" cy="507.41" r="1.85" fill="#0d64a8"/>
<circle cx="58.20" cy="508.37" r="1.85" fill="#0d64a8"/>
<circle cx="63.24" cy="509.70" r="1.85" fill="#0d64a8"/>
<circle cx="68.29" cy="510.83" r="1.85" fill="#0d64a8"/>
<circle cx="73.34" cy="511.78" r="1.85" fill="#0d64a8"/>
<circle cx="78.39" cy="512.95" r="1.85" fill="#0d64a8"/>
<circle cx="83.44" cy="513.81" r="1.85" fill="#0d64a8"/>
<circle cx="88.49" cy="514.90" r="1.85" fill="#0d64a8"/>
<circle cx="93.54" cy="515.85" r="1.85" fill="#0d64a8"/>
<circle cx="98.59" cy="516.33" r="1.85" fill="#0d64a8"/>
<circle cx="103.64" cy="517.16" r="1.85" fill="#0d64a8"/>
<circle cx="108.68" cy="517.72" r="1.85" fill="#0d64a8"/>
<circle cx="113.73" cy="518.52" r="1.85" fill="#0d64a8"/>
<circle cx="118.78" cy="519.14" r="1.85" fill="#0d64a8"/>
<circle cx="123.83" cy="520.04" r="1.85" fill="#0d64a8"/>
<circle cx="128.88" cy="520.70" r="1.85" fill="#0d64a8"/>
<circle cx="133.93" cy="521.84" r="1.85" fill="#0d64a8"/>
<circle cx="138.98" cy="522.53" r="1.85" fill="#0d64a8"/>
<circle cx="144.03" cy="522.91" r="1.85" fill="#0d64a8"/>
<circle cx="149.08" cy="523.63" r="1.85" fill="#0d64a8"/>
<circle cx="154.12" cy="524.43" r="1.85" fill="#0d64a8"/>
<circle cx="159.17" cy="524.58" r="1.85" fill="#0d64a8"/>
<circle cx="164.22" cy="525.51" r="1.85" fill="#0d64a8"/>
<circle cx="169.27" cy="525.89" r="1.85" fill="#0d64a8"/>
<circle cx="174.32" cy="526.49" r="1.85" fill="#0d64a8"/>
<circle cx="179.37" cy="527.23" r="1.85" fill="#0d64a8"/>
<circle cx="184.42" cy="527.58" r="1.85" fill="#0d64a8"/>
<circle cx="189.47" cy="528.20" r="1.85" fill="#0d64a8"/>
<circle cx="194.52" cy="528.67" r="1.85" fill="#0d64a8"/>
<circle cx="199.56" cy="529.20" r="1.85" fill="#0d64a8"/>
<circle cx="204.61" cy="529.26" r="1.85" fill="#0d64a8"/>
<circle cx="209.66" cy="529.89" r="1.85" fill="#0d64a8"/>
<circle cx="214.71" cy="530.20" r="1.85" fill="#0d64a8"/>
<circle cx="219.76" cy="530.55" r="1.85" fill="#0d64a8"/>
<circle cx="224.81" cy="530.81" r="1.85" fill="#0d64a8"/>
<circle cx="229.86" cy="531.16" r="1.85" fill="#0d64a8"/>
<circle cx="234.91" cy="531.40" r="1.85" fill="#0d64a8"/>
<circle cx="239.96" cy="531.81" r="1.85" fill="#0d64a8"/>
<polyline points="38.00,409.40 43.05,413.17 48.10,415.83 53.15,418.67 58.20,421.52 63.24,424.96 68.29,427.88 73.34,430.65 78.39,432.83 83.44,435.06 88.49,437.36 93.54,439.72 98.59,441.76 103.64,444.21 108.68,446.33 113.73,451.32 118.78,455.83 123.83,457.93 128.88,460.12 133.93,462.68 138.98,464.27 144.03,465.55 149.08,466.55 154.12,468.44 159.17,470.13 164.22,471.78 169.27,473.19 174.32,474.95 179.37,476.15 184.42,477.88 189.47,479.31 194.52,481.18 199.56,482.58 204.61,484.22 209.66,486.06 214.71,487.38 219.76,488.99 224.81,490.32 229.86,491.78 234.91,493.01 239.96,494.35" fill="none" stroke="#ffc000" stroke-width="1.70" stroke-linejoin="round"/>
<circle cx="38.00" cy="409.40" r="1.85" fill="#ffc000"/>
<circle cx="43.05" cy="413.17" r="1.85" fill="#ffc000"/>
<circle cx="48.10" cy="415.83" r="1.85" fill="#ffc000"/>
<circle cx="53.15" cy="418.67" r="1.85" fill="#ffc000"/>
<circle cx="58.20" cy="421.52" r="1.85" fill="#ffc000"/>
<circle cx="63.24" cy="424.96" r="1.85" fill="#ffc000"/>
<circle cx="68.29" cy="427.88" r="1.85" fill="#ffc000"/>
<circle cx="73.34" cy="430.65" r="1.85" fill="#ffc000"/>
<circle cx="78.39" cy="432.83" r="1.85" fill="#ffc000"/>
<circle cx="83.44" cy="435.06" r="1.85" fill="#ffc000"/>
<circle cx="88.49" cy="437.36" r="1.85" fill="#ffc000"/>
<circle cx="93.54" cy="439.72" r="1.85" fill="#ffc000"/>
<circle cx="98.59" cy="441.76" r="1.85" fill="#ffc000"/>
<circle cx="103.64" cy="444.21" r="1.85" fill="#ffc000"/>
<circle cx="108.68" cy="446.33" r="1.85" fill="#ffc000"/>
<circle cx="113.73" cy="451.32" r="1.85" fill="#ffc000"/>
<circle cx="118.78" cy="455.83" r="1.85" fill="#ffc000"/>
<circle cx="123.83" cy="457.93" r="1.85" fill="#ffc000"/>
<circle cx="128.88" cy="460.12" r="1.85" fill="#ffc000"/>
<circle cx="133.93" cy="462.68" r="1.85" fill="#ffc000"/>
<circle cx="138.98" cy="464.27" r="1.85" fill="#ffc000"/>
<circle cx="144.03" cy="465.55" r="1.85" fill="#ffc000"/>
<circle cx="149.08" cy="466.55" r="1.85" fill="#ffc000"/>
<circle cx="154.12" cy="468.44" r="1.85" fill="#ffc000"/>
<circle cx="159.17" cy="470.13" r="1.85" fill="#ffc000"/>
<circle cx="164.22" cy="471.78" r="1.85" fill="#ffc000"/>
<circle cx="169.27" cy="473.19" r="1.85" fill="#ffc000"/>
<circle cx="174.32" cy="474.95" r="1.85" fill="#ffc000"/>
<circle cx="179.37" cy="476.15" r="1.85" fill="#ffc000"/>
<circle cx="184.42" cy="477.88" r="1.85" fill="#ffc000"/>
<circle cx="189.47" cy="479.31" r="1.85" fill="#ffc000"/>
<circle cx="194.52" cy="481.18" r="1.85" fill="#ffc000"/>
<circle cx="199.56" cy="482.58" r="1.85" fill="#ffc000"/>
<circle cx="204.61" cy="484.22" r="1.85" fill="#ffc000"/>
<circle cx="209.66" cy="486.06" r="1.85" fill="#ffc000"/>
<circle cx="214.71" cy="487.38" r="1.85" fill="#ffc000"/>
<circle cx="219.76" cy="488.99" r="1.85" fill="#ffc000"/>
<circle cx="224.81" cy="490.32" r="1.85" fill="#ffc000"/>
<circle cx="229.86" cy="491.78" r="1.85" fill="#ffc000"/>
<circle cx="234.91" cy="493.01" r="1.85" fill="#ffc000"/>
<circle cx="239.96" cy="494.35" r="1.85" fill="#ffc000"/>
<rect x="38.00" y="406.10" width="227.20" height="132.90" fill="none" stroke="#000" stroke-width="1.75"/>
<line x1="35.80" y1="406.10" x2="38.00" y2="406.10" stroke="#000" stroke-width="1.2"/>
<line x1="265.20" y1="406.10" x2="267.40" y2="406.10" stroke="#000" stroke-width="1.2"/>
<text x="33.70" y="408.90" font-size="7.60" font-weight="bold" text-anchor="end" >1.00</text>
<line x1="35.80" y1="428.00" x2="38.00" y2="428.00" stroke="#000" stroke-width="1.2"/>
<line x1="265.20" y1="428.00" x2="267.40" y2="428.00" stroke="#000" stroke-width="1.2"/>
<text x="33.70" y="430.80" font-size="7.60" font-weight="bold" text-anchor="end" >0.95</text>
<line x1="35.80" y1="449.90" x2="38.00" y2="449.90" stroke="#000" stroke-width="1.2"/>
<line x1="265.20" y1="449.90" x2="267.40" y2="449.90" stroke="#000" stroke-width="1.2"/>
<text x="33.70" y="452.70" font-size="7.60" font-weight="bold" text-anchor="end" >0.90</text>
<line x1="35.80" y1="471.80" x2="38.00" y2="471.80" stroke="#000" stroke-width="1.2"/>
<line x1="265.20" y1="471.80" x2="267.40" y2="471.80" stroke="#000" stroke-width="1.2"/>
<text x="33.70" y="474.60" font-size="7.60" font-weight="bold" text-anchor="end" >0.85</text>
<line x1="35.80" y1="493.70" x2="38.00" y2="493.70" stroke="#000" stroke-width="1.2"/>
<line x1="265.20" y1="493.70" x2="267.40" y2="493.70" stroke="#000" stroke-width="1.2"/>
<text x="33.70" y="496.50" font-size="7.60" font-weight="bold" text-anchor="end" >0.80</text>
<line x1="35.80" y1="517.00" x2="38.00" y2="517.00" stroke="#000" stroke-width="1.2"/>
<line x1="265.20" y1="517.00" x2="267.40" y2="517.00" stroke="#000" stroke-width="1.2"/>
<text x="33.70" y="519.80" font-size="7.60" font-weight="bold" text-anchor="end" >0.70</text>
<line x1="35.80" y1="539.00" x2="38.00" y2="539.00" stroke="#000" stroke-width="1.2"/>
<line x1="265.20" y1="539.00" x2="267.40" y2="539.00" stroke="#000" stroke-width="1.2"/>
<text x="33.70" y="541.80" font-size="7.60" font-weight="bold" text-anchor="end" >0.65</text>
<line x1="38.00" y1="539.00" x2="38.00" y2="540.80" stroke="#000" stroke-width="1.2"/>
<line x1="38.00" y1="404.30" x2="38.00" y2="406.10" stroke="#000" stroke-width="1.2"/>
<text x="38.00" y="548.30" font-size="7.60" font-weight="bold" text-anchor="middle" >0</text>
<line x1="88.49" y1="539.00" x2="88.49" y2="540.80" stroke="#000" stroke-width="1.2"/>
<line x1="88.49" y1="404.30" x2="88.49" y2="406.10" stroke="#000" stroke-width="1.2"/>
<text x="88.49" y="548.30" font-size="7.60" font-weight="bold" text-anchor="middle" >10</text>
<line x1="138.98" y1="539.00" x2="138.98" y2="540.80" stroke="#000" stroke-width="1.2"/>
<line x1="138.98" y1="404.30" x2="138.98" y2="406.10" stroke="#000" stroke-width="1.2"/>
<text x="138.98" y="548.30" font-size="7.60" font-weight="bold" text-anchor="middle" >20</text>
<line x1="189.47" y1="539.00" x2="189.47" y2="540.80" stroke="#000" stroke-width="1.2"/>
<line x1="189.47" y1="404.30" x2="189.47" y2="406.10" stroke="#000" stroke-width="1.2"/>
<text x="189.47" y="548.30" font-size="7.60" font-weight="bold" text-anchor="middle" >30</text>
<line x1="239.96" y1="539.00" x2="239.96" y2="540.80" stroke="#000" stroke-width="1.2"/>
<line x1="239.96" y1="404.30" x2="239.96" y2="406.10" stroke="#000" stroke-width="1.2"/>
<text x="239.96" y="548.30" font-size="7.60" font-weight="bold" text-anchor="middle" >40</text>
<rect x="36.20" y="496.10" width="3.6" height="1.8" fill="#fff"/>
<path d="M35.60,496.40 L40.40,494.40 M35.60,499.60 L40.40,497.60" fill="none" stroke="#000" stroke-width="1.5"/>
<rect x="263.40" y="496.10" width="3.6" height="1.8" fill="#fff"/>
<path d="M262.80,496.40 L267.60,494.40 M262.80,499.60 L267.60,497.60" fill="none" stroke="#000" stroke-width="1.5"/>
<text x="151.60" y="561.40" font-size="10.20" font-weight="bold" text-anchor="middle"  stroke="#111" stroke-width="0.22">Cycle number</text>
<text x="151.60" y="399.10" font-size="9.60" font-weight="bold" text-anchor="middle"  stroke="#111" stroke-width="0.22">Cell 4</text>
<text x="0" y="0" font-size="10.60" font-weight="bold" text-anchor="middle" stroke="#111" stroke-width="0.22" transform="translate(14.3,472.55) rotate(-90)">SOH</text>
<text x="7.50" y="400.00" font-size="10.40" font-weight="bold" text-anchor="start"  stroke="#111" stroke-width="0.22">(c)</text>
<rect x="152.50" y="413.80" width="66.80" height="36.30" fill="#fff" stroke="#333" stroke-width="1.1"/>
<line x1="153.00" y1="420.50" x2="175.00" y2="420.50" stroke="#ff1a1a" stroke-width="1.6"/>
<circle cx="164.00" cy="420.50" r="1.7" fill="#ff1a1a"/>
<text x="176.00" y="423.40" font-size="8.60" font-weight="bold" text-anchor="start" textLength="37.4" lengthAdjust="spacingAndGlyphs" stroke="#111" stroke-width="0.22">Real value</text>
<line x1="153.00" y1="432.10" x2="175.00" y2="432.10" stroke="#0d64a8" stroke-width="1.6"/>
<circle cx="164.00" cy="432.10" r="1.7" fill="#0d64a8"/>
<text x="174.50" y="435.00" font-size="8.60" font-weight="bold" text-anchor="start" textLength="34.2" lengthAdjust="spacingAndGlyphs" stroke="#111" stroke-width="0.22">Before TL</text>
<line x1="153.00" y1="443.70" x2="175.00" y2="443.70" stroke="#ffc000" stroke-width="1.6"/>
<circle cx="164.00" cy="443.70" r="1.7" fill="#ffc000"/>
<text x="174.50" y="446.60" font-size="8.60" font-weight="bold" text-anchor="start" textLength="30.2" lengthAdjust="spacingAndGlyphs" stroke="#111" stroke-width="0.22">After TL</text>
<line x1="83.44" y1="599.70" x2="83.44" y2="733.40" stroke="#8e8e8e" stroke-width="1.25"/>
<line x1="128.88" y1="599.70" x2="128.88" y2="733.40" stroke="#8e8e8e" stroke-width="1.25"/>
<line x1="174.32" y1="599.70" x2="174.32" y2="733.40" stroke="#8e8e8e" stroke-width="1.25"/>
<line x1="219.76" y1="599.70" x2="219.76" y2="733.40" stroke="#8e8e8e" stroke-width="1.25"/>
<line x1="38.00" y1="621.60" x2="265.20" y2="621.60" stroke="#8e8e8e" stroke-width="1.25"/>
<line x1="38.00" y1="643.50" x2="265.20" y2="643.50" stroke="#8e8e8e" stroke-width="1.25"/>
<line x1="38.00" y1="665.40" x2="265.20" y2="665.40" stroke="#8e8e8e" stroke-width="1.25"/>
<line x1="38.00" y1="687.30" x2="265.20" y2="687.30" stroke="#8e8e8e" stroke-width="1.25"/>
<line x1="38.00" y1="711.40" x2="265.20" y2="711.40" stroke="#8e8e8e" stroke-width="1.25"/>
<polyline points="38.00,604.67 42.54,607.92 47.09,610.28 51.63,612.54 56.18,613.75 60.72,615.96 65.26,617.70 69.81,619.08 74.35,621.43 78.90,623.32 83.44,624.99 87.98,626.71 92.53,628.42 97.07,629.60 101.62,631.52 106.16,634.00 110.70,638.23 115.25,640.01 119.79,641.83 124.34,643.61 128.88,645.77 133.42,647.13 137.97,648.64 142.51,650.31 147.06,652.17 151.60,654.24 156.14,655.94 160.69,657.30 165.23,659.36 169.78,660.70 174.32,662.29 178.86,663.69 183.41,665.13 187.95,666.39 192.50,667.45 197.04,669.41 201.58,670.59 206.13,671.64 210.67,672.88 215.22,674.19 219.76,675.00 224.30,676.44 228.85,677.08 233.39,677.93 237.94,679.04" fill="none" stroke="#ff1a1a" stroke-width="1.70" stroke-linejoin="round"/>
<circle cx="38.00" cy="604.67" r="1.85" fill="#ff1a1a"/>
<circle cx="42.54" cy="607.92" r="1.85" fill="#ff1a1a"/>
<circle cx="47.09" cy="610.28" r="1.85" fill="#ff1a1a"/>
<circle cx="51.63" cy="612.54" r="1.85" fill="#ff1a1a"/>
<circle cx="56.18" cy="613.75" r="1.85" fill="#ff1a1a"/>
<circle cx="60.72" cy="615.96" r="1.85" fill="#ff1a1a"/>
<circle cx="65.26" cy="617.70" r="1.85" fill="#ff1a1a"/>
<circle cx="69.81" cy="619.08" r="1.85" fill="#ff1a1a"/>
<circle cx="74.35" cy="621.43" r="1.85" fill="#ff1a1a"/>
<circle cx="78.90" cy="623.32" r="1.85" fill="#ff1a1a"/>
<circle cx="83.44" cy="624.99" r="1.85" fill="#ff1a1a"/>
<circle cx="87.98" cy="626.71" r="1.85" fill="#ff1a1a"/>
<circle cx="92.53" cy="628.42" r="1.85" fill="#ff1a1a"/>
<circle cx="97.07" cy="629.60" r="1.85" fill="#ff1a1a"/>
<circle cx="101.62" cy="631.52" r="1.85" fill="#ff1a1a"/>
<circle cx="106.16" cy="634.00" r="1.85" fill="#ff1a1a"/>
<circle cx="110.70" cy="638.23" r="1.85" fill="#ff1a1a"/>
<circle cx="115.25" cy="640.01" r="1.85" fill="#ff1a1a"/>
<circle cx="119.79" cy="641.83" r="1.85" fill="#ff1a1a"/>
<circle cx="124.34" cy="643.61" r="1.85" fill="#ff1a1a"/>
<circle cx="128.88" cy="645.77" r="1.85" fill="#ff1a1a"/>
<circle cx="133.42" cy="647.13" r="1.85" fill="#ff1a1a"/>
<circle cx="137.97" cy="648.64" r="1.85" fill="#ff1a1a"/>
<circle cx="142.51" cy="650.31" r="1.85" fill="#ff1a1a"/>
<circle cx="147.06" cy="652.17" r="1.85" fill="#ff1a1a"/>
<circle cx="151.60" cy="654.24" r="1.85" fill="#ff1a1a"/>
<circle cx="156.14" cy="655.94" r="1.85" fill="#ff1a1a"/>
<circle cx="160.69" cy="657.30" r="1.85" fill="#ff1a1a"/>
<circle cx="165.23" cy="659.36" r="1.85" fill="#ff1a1a"/>
<circle cx="169.78" cy="660.70" r="1.85" fill="#ff1a1a"/>
<circle cx="174.32" cy="662.29" r="1.85" fill="#ff1a1a"/>
<circle cx="178.86" cy="663.69" r="1.85" fill="#ff1a1a"/>
<circle cx="183.41" cy="665.13" r="1.85" fill="#ff1a1a"/>
<circle cx="187.95" cy="666.39" r="1.85" fill="#ff1a1a"/>
<circle cx="192.50" cy="667.45" r="1.85" fill="#ff1a1a"/>
<circle cx="197.04" cy="669.41" r="1.85" fill="#ff1a1a"/>
<circle cx="201.58" cy="670.59" r="1.85" fill="#ff1a1a"/>
<circle cx="206.13" cy="671.64" r="1.85" fill="#ff1a1a"/>
<circle cx="210.67" cy="672.88" r="1.85" fill="#ff1a1a"/>
<circle cx="215.22" cy="674.19" r="1.85" fill="#ff1a1a"/>
<circle cx="219.76" cy="675.00" r="1.85" fill="#ff1a1a"/>
<circle cx="224.30" cy="676.44" r="1.85" fill="#ff1a1a"/>
<circle cx="228.85" cy="677.08" r="1.85" fill="#ff1a1a"/>
<circle cx="233.39" cy="677.93" r="1.85" fill="#ff1a1a"/>
<circle cx="237.94" cy="679.04" r="1.85" fill="#ff1a1a"/>
<polyline points="38.00,696.41 42.54,698.85 47.09,700.72 51.63,701.61 56.18,702.15 60.72,702.87 65.26,703.69 69.81,704.57 74.35,705.38 78.90,706.08 83.44,706.87 87.98,707.16 92.53,707.76 97.07,708.39 101.62,709.20 106.16,709.55 110.70,710.25 115.25,710.55 119.79,711.14 124.34,711.81 128.88,712.59 133.42,713.10 137.97,713.59 142.51,713.90 147.06,714.51 151.60,714.98 156.14,715.48 160.69,715.81 165.23,716.70 169.78,716.85 174.32,717.74 178.86,718.18 183.41,718.19 187.95,718.87 192.50,719.52 197.04,720.06 201.58,720.26 206.13,720.63 210.67,721.07 215.22,721.90 219.76,722.00 224.30,722.65 228.85,722.89 233.39,723.55 237.94,724.23" fill="none" stroke="#0d64a8" stroke-width="1.70" stroke-linejoin="round"/>
<circle cx="38.00" cy="696.41" r="1.85" fill="#0d64a8"/>
<circle cx="42.54" cy="698.85" r="1.85" fill="#0d64a8"/>
<circle cx="47.09" cy="700.72" r="1.85" fill="#0d64a8"/>
<circle cx="51.63" cy="701.61" r="1.85" fill="#0d64a8"/>
<circle cx="56.18" cy="702.15" r="1.85" fill="#0d64a8"/>
<circle cx="60.72" cy="702.87" r="1.85" fill="#0d64a8"/>
<circle cx="65.26" cy="703.69" r="1.85" fill="#0d64a8"/>
<circle cx="69.81" cy="704.57" r="1.85" fill="#0d64a8"/>
<circle cx="74.35" cy="705.38" r="1.85" fill="#0d64a8"/>
<circle cx="78.90" cy="706.08" r="1.85" fill="#0d64a8"/>
<circle cx="83.44" cy="706.87" r="1.85" fill="#0d64a8"/>
<circle cx="87.98" cy="707.16" r="1.85" fill="#0d64a8"/>
<circle cx="92.53" cy="707.76" r="1.85" fill="#0d64a8"/>
<circle cx="97.07" cy="708.39" r="1.85" fill="#0d64a8"/>
<circle cx="101.62" cy="709.20" r="1.85" fill="#0d64a8"/>
<circle cx="106.16" cy="709.55" r="1.85" fill="#0d64a8"/>
<circle cx="110.70" cy="710.25" r="1.85" fill="#0d64a8"/>
<circle cx="115.25" cy="710.55" r="1.85" fill="#0d64a8"/>
<circle cx="119.79" cy="711.14" r="1.85" fill="#0d64a8"/>
<circle cx="124.34" cy="711.81" r="1.85" fill="#0d64a8"/>
<circle cx="128.88" cy="712.59" r="1.85" fill="#0d64a8"/>
<circle cx="133.42" cy="713.10" r="1.85" fill="#0d64a8"/>
<circle cx="137.97" cy="713.59" r="1.85" fill="#0d64a8"/>
<circle cx="142.51" cy="713.90" r="1.85" fill="#0d64a8"/>
<circle cx="147.06" cy="714.51" r="1.85" fill="#0d64a8"/>
<circle cx="151.60" cy="714.98" r="1.85" fill="#0d64a8"/>
<circle cx="156.14" cy="715.48" r="1.85" fill="#0d64a8"/>
<circle cx="160.69" cy="715.81" r="1.85" fill="#0d64a8"/>
<circle cx="165.23" cy="716.70" r="1.85" fill="#0d64a8"/>
<circle cx="169.78" cy="716.85" r="1.85" fill="#0d64a8"/>
<circle cx="174.32" cy="717.74" r="1.85" fill="#0d64a8"/>
<circle cx="178.86" cy="718.18" r="1.85" fill="#0d64a8"/>
<circle cx="183.41" cy="718.19" r="1.85" fill="#0d64a8"/>
<circle cx="187.95" cy="718.87" r="1.85" fill="#0d64a8"/>
<circle cx="192.50" cy="719.52" r="1.85" fill="#0d64a8"/>
<circle cx="197.04" cy="720.06" r="1.85" fill="#0d64a8"/>
<circle cx="201.58" cy="720.26" r="1.85" fill="#0d64a8"/>
<circle cx="206.13" cy="720.63" r="1.85" fill="#0d64a8"/>
<circle cx="210.67" cy="721.07" r="1.85" fill="#0d64a8"/>
<circle cx="215.22" cy="721.90" r="1.85" fill="#0d64a8"/>
<circle cx="219.76" cy="722.00" r="1.85" fill="#0d64a8"/>
<circle cx="224.30" cy="722.65" r="1.85" fill="#0d64a8"/>
<circle cx="228.85" cy="722.89" r="1.85" fill="#0d64a8"/>
<circle cx="233.39" cy="723.55" r="1.85" fill="#0d64a8"/>
<circle cx="237.94" cy="724.23" r="1.85" fill="#0d64a8"/>
<polyline points="38.00,606.74 42.54,610.92 47.09,612.91 51.63,614.74 56.18,616.18 60.72,617.41 65.26,620.12 69.81,622.07 74.35,623.99 78.90,626.21 83.44,628.79 87.98,630.07 92.53,631.26 97.07,632.45 101.62,633.89 106.16,636.07 110.70,640.04 115.25,641.25 119.79,643.58 124.34,645.44 128.88,646.73 133.42,648.70 137.97,649.95 142.51,652.15 147.06,653.79 151.60,655.91 156.14,657.61 160.69,659.71 165.23,661.10 169.78,662.62 174.32,664.35 178.86,665.56 183.41,666.72 187.95,668.08 192.50,669.91 197.04,670.85 201.58,672.50 206.13,673.22 210.67,674.44 215.22,675.81 219.76,676.78 224.30,678.11 228.85,679.72 233.39,680.87 237.94,682.02" fill="none" stroke="#ffc000" stroke-width="1.70" stroke-linejoin="round"/>
<circle cx="38.00" cy="606.74" r="1.85" fill="#ffc000"/>
<circle cx="42.54" cy="610.92" r="1.85" fill="#ffc000"/>
<circle cx="47.09" cy="612.91" r="1.85" fill="#ffc000"/>
<circle cx="51.63" cy="614.74" r="1.85" fill="#ffc000"/>
<circle cx="56.18" cy="616.18" r="1.85" fill="#ffc000"/>
<circle cx="60.72" cy="617.41" r="1.85" fill="#ffc000"/>
<circle cx="65.26" cy="620.12" r="1.85" fill="#ffc000"/>
<circle cx="69.81" cy="622.07" r="1.85" fill="#ffc000"/>
<circle cx="74.35" cy="623.99" r="1.85" fill="#ffc000"/>
<circle cx="78.90" cy="626.21" r="1.85" fill="#ffc000"/>
<circle cx="83.44" cy="628.79" r="1.85" fill="#ffc000"/>
<circle cx="87.98" cy="630.07" r="1.85" fill="#ffc000"/>
<circle cx="92.53" cy="631.26" r="1.85" fill="#ffc000"/>
<circle cx="97.07" cy="632.45" r="1.85" fill="#ffc000"/>
<circle cx="101.62" cy="633.89" r="1.85" fill="#ffc000"/>
<circle cx="106.16" cy="636.07" r="1.85" fill="#ffc000"/>
<circle cx="110.70" cy="640.04" r="1.85" fill="#ffc000"/>
<circle cx="115.25" cy="641.25" r="1.85" fill="#ffc000"/>
<circle cx="119.79" cy="643.58" r="1.85" fill="#ffc000"/>
<circle cx="124.34" cy="645.44" r="1.85" fill="#ffc000"/>
<circle cx="128.88" cy="646.73" r="1.85" fill="#ffc000"/>
<circle cx="133.42" cy="648.70" r="1.85" fill="#ffc000"/>
<circle cx="137.97" cy="649.95" r="1.85" fill="#ffc000"/>
<circle cx="142.51" cy="652.15" r="1.85" fill="#ffc000"/>
<circle cx="147.06" cy="653.79" r="1.85" fill="#ffc000"/>
<circle cx="151.60" cy="655.91" r="1.85" fill="#ffc000"/>
<circle cx="156.14" cy="657.61" r="1.85" fill="#ffc000"/>
<circle cx="160.69" cy="659.71" r="1.85" fill="#ffc000"/>
<circle cx="165.23" cy="661.10" r="1.85" fill="#ffc000"/>
<circle cx="169.78" cy="662.62" r="1.85" fill="#ffc000"/>
<circle cx="174.32" cy="664.35" r="1.85" fill="#ffc000"/>
<circle cx="178.86" cy="665.56" r="1.85" fill="#ffc000"/>
<circle cx="183.41" cy="666.72" r="1.85" fill="#ffc000"/>
<circle cx="187.95" cy="668.08" r="1.85" fill="#ffc000"/>
<circle cx="192.50" cy="669.91" r="1.85" fill="#ffc000"/>
<circle cx="197.04" cy="670.85" r="1.85" fill="#ffc000"/>
<circle cx="201.58" cy="672.50" r="1.85" fill="#ffc000"/>
<circle cx="206.13" cy="673.22" r="1.85" fill="#ffc000"/>
<circle cx="210.67" cy="674.44" r="1.85" fill="#ffc000"/>
<circle cx="215.22" cy="675.81" r="1.85" fill="#ffc000"/>
<circle cx="219.76" cy="676.78" r="1.85" fill="#ffc000"/>
<circle cx="224.30" cy="678.11" r="1.85" fill="#ffc000"/>
<circle cx="228.85" cy="679.72" r="1.85" fill="#ffc000"/>
<circle cx="233.39" cy="680.87" r="1.85" fill="#ffc000"/>
<circle cx="237.94" cy="682.02" r="1.85" fill="#ffc000"/>
<rect x="38.00" y="599.70" width="227.20" height="133.70" fill="none" stroke="#000" stroke-width="1.75"/>
<line x1="35.80" y1="599.70" x2="38.00" y2="599.70" stroke="#000" stroke-width="1.2"/>
<line x1="265.20" y1="599.70" x2="267.40" y2="599.70" stroke="#000" stroke-width="1.2"/>
<text x="33.70" y="602.50" font-size="7.60" font-weight="bold" text-anchor="end" >1.00</text>
<line x1="35.80" y1="621.60" x2="38.00" y2="621.60" stroke="#000" stroke-width="1.2"/>
<line x1="265.20" y1="621.60" x2="267.40" y2="621.60" stroke="#000" stroke-width="1.2"/>
<text x="33.70" y="624.40" font-size="7.60" font-weight="bold" text-anchor="end" >0.95</text>
<line x1="35.80" y1="643.50" x2="38.00" y2="643.50" stroke="#000" stroke-width="1.2"/>
<line x1="265.20" y1="643.50" x2="267.40" y2="643.50" stroke="#000" stroke-width="1.2"/>
<text x="33.70" y="646.30" font-size="7.60" font-weight="bold" text-anchor="end" >0.90</text>
<line x1="35.80" y1="665.40" x2="38.00" y2="665.40" stroke="#000" stroke-width="1.2"/>
<line x1="265.20" y1="665.40" x2="267.40" y2="665.40" stroke="#000" stroke-width="1.2"/>
<text x="33.70" y="668.20" font-size="7.60" font-weight="bold" text-anchor="end" >0.85</text>
<line x1="35.80" y1="687.30" x2="38.00" y2="687.30" stroke="#000" stroke-width="1.2"/>
<line x1="265.20" y1="687.30" x2="267.40" y2="687.30" stroke="#000" stroke-width="1.2"/>
<text x="33.70" y="690.10" font-size="7.60" font-weight="bold" text-anchor="end" >0.80</text>
<line x1="35.80" y1="711.40" x2="38.00" y2="711.40" stroke="#000" stroke-width="1.2"/>
<line x1="265.20" y1="711.40" x2="267.40" y2="711.40" stroke="#000" stroke-width="1.2"/>
<text x="33.70" y="714.20" font-size="7.60" font-weight="bold" text-anchor="end" >0.70</text>
<line x1="35.80" y1="733.40" x2="38.00" y2="733.40" stroke="#000" stroke-width="1.2"/>
<line x1="265.20" y1="733.40" x2="267.40" y2="733.40" stroke="#000" stroke-width="1.2"/>
<text x="33.70" y="736.20" font-size="7.60" font-weight="bold" text-anchor="end" >0.65</text>
<line x1="38.00" y1="733.40" x2="38.00" y2="735.20" stroke="#000" stroke-width="1.2"/>
<line x1="38.00" y1="597.90" x2="38.00" y2="599.70" stroke="#000" stroke-width="1.2"/>
<text x="38.00" y="742.70" font-size="7.60" font-weight="bold" text-anchor="middle" >0</text>
<line x1="83.44" y1="733.40" x2="83.44" y2="735.20" stroke="#000" stroke-width="1.2"/>
<line x1="83.44" y1="597.90" x2="83.44" y2="599.70" stroke="#000" stroke-width="1.2"/>
<text x="83.44" y="742.70" font-size="7.60" font-weight="bold" text-anchor="middle" >10</text>
<line x1="128.88" y1="733.40" x2="128.88" y2="735.20" stroke="#000" stroke-width="1.2"/>
<line x1="128.88" y1="597.90" x2="128.88" y2="599.70" stroke="#000" stroke-width="1.2"/>
<text x="128.88" y="742.70" font-size="7.60" font-weight="bold" text-anchor="middle" >20</text>
<line x1="174.32" y1="733.40" x2="174.32" y2="735.20" stroke="#000" stroke-width="1.2"/>
<line x1="174.32" y1="597.90" x2="174.32" y2="599.70" stroke="#000" stroke-width="1.2"/>
<text x="174.32" y="742.70" font-size="7.60" font-weight="bold" text-anchor="middle" >30</text>
<line x1="219.76" y1="733.40" x2="219.76" y2="735.20" stroke="#000" stroke-width="1.2"/>
<line x1="219.76" y1="597.90" x2="219.76" y2="599.70" stroke="#000" stroke-width="1.2"/>
<text x="219.76" y="742.70" font-size="7.60" font-weight="bold" text-anchor="middle" >40</text>
<line x1="265.20" y1="733.40" x2="265.20" y2="735.20" stroke="#000" stroke-width="1.2"/>
<line x1="265.20" y1="597.90" x2="265.20" y2="599.70" stroke="#000" stroke-width="1.2"/>
<text x="265.20" y="742.70" font-size="7.60" font-weight="bold" text-anchor="middle" >50</text>
<rect x="36.20" y="689.70" width="3.6" height="1.8" fill="#fff"/>
<path d="M35.60,690.00 L40.40,688.00 M35.60,693.20 L40.40,691.20" fill="none" stroke="#000" stroke-width="1.5"/>
<rect x="263.40" y="689.70" width="3.6" height="1.8" fill="#fff"/>
<path d="M262.80,690.00 L267.60,688.00 M262.80,693.20 L267.60,691.20" fill="none" stroke="#000" stroke-width="1.5"/>
<text x="151.60" y="755.80" font-size="10.20" font-weight="bold" text-anchor="middle"  stroke="#111" stroke-width="0.22">Cycle number</text>
<text x="151.60" y="592.70" font-size="9.60" font-weight="bold" text-anchor="middle"  stroke="#111" stroke-width="0.22">Cell 5</text>
<text x="0" y="0" font-size="10.60" font-weight="bold" text-anchor="middle" stroke="#111" stroke-width="0.22" transform="translate(14.3,666.55) rotate(-90)">SOH</text>
<text x="7.50" y="595.00" font-size="10.40" font-weight="bold" text-anchor="start"  stroke="#111" stroke-width="0.22">(d)</text>
<rect x="152.50" y="607.40" width="66.80" height="36.30" fill="#fff" stroke="#333" stroke-width="1.1"/>
<line x1="153.00" y1="614.10" x2="175.00" y2="614.10" stroke="#ff1a1a" stroke-width="1.6"/>
<circle cx="164.00" cy="614.10" r="1.7" fill="#ff1a1a"/>
<text x="176.00" y="617.00" font-size="8.60" font-weight="bold" text-anchor="start" textLength="37.4" lengthAdjust="spacingAndGlyphs" stroke="#111" stroke-width="0.22">Real value</text>
<line x1="153.00" y1="625.70" x2="175.00" y2="625.70" stroke="#0d64a8" stroke-width="1.6"/>
<circle cx="164.00" cy="625.70" r="1.7" fill="#0d64a8"/>
<text x="174.50" y="628.60" font-size="8.60" font-weight="bold" text-anchor="start" textLength="34.2" lengthAdjust="spacingAndGlyphs" stroke="#111" stroke-width="0.22">Before TL</text>
<line x1="153.00" y1="637.30" x2="175.00" y2="637.30" stroke="#ffc000" stroke-width="1.6"/>
<circle cx="164.00" cy="637.30" r="1.7" fill="#ffc000"/>
<text x="174.50" y="640.20" font-size="8.60" font-weight="bold" text-anchor="start" textLength="30.2" lengthAdjust="spacingAndGlyphs" stroke="#111" stroke-width="0.22">After TL</text>
<line x1="349.20" y1="19.30" x2="349.20" y2="152.30" stroke="#8e8e8e" stroke-width="1.25"/>
<line x1="387.40" y1="19.30" x2="387.40" y2="152.30" stroke="#8e8e8e" stroke-width="1.25"/>
<line x1="425.60" y1="19.30" x2="425.60" y2="152.30" stroke="#8e8e8e" stroke-width="1.25"/>
<line x1="463.80" y1="19.30" x2="463.80" y2="152.30" stroke="#8e8e8e" stroke-width="1.25"/>
<line x1="502.00" y1="19.30" x2="502.00" y2="152.30" stroke="#8e8e8e" stroke-width="1.25"/>
<line x1="311.00" y1="49.50" x2="540.20" y2="49.50" stroke="#8e8e8e" stroke-width="1.25"/>
<line x1="311.00" y1="75.20" x2="540.20" y2="75.20" stroke="#8e8e8e" stroke-width="1.25"/>
<line x1="311.00" y1="104.60" x2="540.20" y2="104.60" stroke="#8e8e8e" stroke-width="1.25"/>
<line x1="311.00" y1="134.30" x2="540.20" y2="134.30" stroke="#8e8e8e" stroke-width="1.25"/>
<polyline points="311.00,139.47 314.82,137.16 318.64,134.72 322.46,132.99 326.28,131.54 330.10,129.67 333.92,128.86 337.74,127.56 341.56,126.55 345.38,125.33 349.20,123.99 353.02,122.35 356.84,121.26 360.66,119.34 364.48,117.99 368.30,115.27 372.12,112.60 375.94,111.29 379.76,109.89 383.58,108.01 387.40,106.68 391.22,105.18 395.04,103.99 398.86,102.59 402.68,101.15 406.50,99.83 410.32,98.35 414.14,97.20 417.96,95.50 421.78,93.86 425.60,92.70 429.42,91.59 433.24,90.15 437.06,88.84 440.88,87.71 444.70,86.50 448.52,85.48 452.34,84.22 456.16,83.15 459.98,82.02 463.80,81.03 467.62,79.89 471.44,78.52 475.26,77.06 479.08,75.76 482.90,74.51 486.72,73.22 490.54,71.98 494.36,70.62 498.18,69.51 502.00,68.63 505.82,66.86 509.64,65.70" fill="none" stroke="#0d64a8" stroke-width="1.70" stroke-linejoin="round"/>
<circle cx="311.00" cy="139.47" r="1.85" fill="#0d64a8"/>
<circle cx="314.82" cy="137.16" r="1.85" fill="#0d64a8"/>
<circle cx="318.64" cy="134.72" r="1.85" fill="#0d64a8"/>
<circle cx="322.46" cy="132.99" r="1.85" fill="#0d64a8"/>
<circle cx="326.28" cy="131.54" r="1.85" fill="#0d64a8"/>
<circle cx="330.10" cy="129.67" r="1.85" fill="#0d64a8"/>
<circle cx="333.92" cy="128.86" r="1.85" fill="#0d64a8"/>
<circle cx="337.74" cy="127.56" r="1.85" fill="#0d64a8"/>
<circle cx="341.56" cy="126.55" r="1.85" fill="#0d64a8"/>
<circle cx="345.38" cy="125.33" r="1.85" fill="#0d64a8"/>
<circle cx="349.20" cy="123.99" r="1.85" fill="#0d64a8"/>
<circle cx="353.02" cy="122.35" r="1.85" fill="#0d64a8"/>
<circle cx="356.84" cy="121.26" r="1.85" fill="#0d64a8"/>
<circle cx="360.66" cy="119.34" r="1.85" fill="#0d64a8"/>
<circle cx="364.48" cy="117.99" r="1.85" fill="#0d64a8"/>
<circle cx="368.30" cy="115.27" r="1.85" fill="#0d64a8"/>
<circle cx="372.12" cy="112.60" r="1.85" fill="#0d64a8"/>
<circle cx="375.94" cy="111.29" r="1.85" fill="#0d64a8"/>
<circle cx="379.76" cy="109.89" r="1.85" fill="#0d64a8"/>
<circle cx="383.58" cy="108.01" r="1.85" fill="#0d64a8"/>
<circle cx="387.40" cy="106.68" r="1.85" fill="#0d64a8"/>
<circle cx="391.22" cy="105.18" r="1.85" fill="#0d64a8"/>
<circle cx="395.04" cy="103.99" r="1.85" fill="#0d64a8"/>
<circle cx="398.86" cy="102.59" r="1.85" fill="#0d64a8"/>
<circle cx="402.68" cy="101.15" r="1.85" fill="#0d64a8"/>
<circle cx="406.50" cy="99.83" r="1.85" fill="#0d64a8"/>
<circle cx="410.32" cy="98.35" r="1.85" fill="#0d64a8"/>
<circle cx="414.14" cy="97.20" r="1.85" fill="#0d64a8"/>
<circle cx="417.96" cy="95.50" r="1.85" fill="#0d64a8"/>
<circle cx="421.78" cy="93.86" r="1.85" fill="#0d64a8"/>
<circle cx="425.60" cy="92.70" r="1.85" fill="#0d64a8"/>
<circle cx="429.42" cy="91.59" r="1.85" fill="#0d64a8"/>
<circle cx="433.24" cy="90.15" r="1.85" fill="#0d64a8"/>
<circle cx="437.06" cy="88.84" r="1.85" fill="#0d64a8"/>
<circle cx="440.88" cy="87.71" r="1.85" fill="#0d64a8"/>
<circle cx="444.70" cy="86.50" r="1.85" fill="#0d64a8"/>
<circle cx="448.52" cy="85.48" r="1.85" fill="#0d64a8"/>
<circle cx="452.34" cy="84.22" r="1.85" fill="#0d64a8"/>
<circle cx="456.16" cy="83.15" r="1.85" fill="#0d64a8"/>
<circle cx="459.98" cy="82.02" r="1.85" fill="#0d64a8"/>
<circle cx="463.80" cy="81.03" r="1.85" fill="#0d64a8"/>
<circle cx="467.62" cy="79.89" r="1.85" fill="#0d64a8"/>
<circle cx="471.44" cy="78.52" r="1.85" fill="#0d64a8"/>
<circle cx="475.26" cy="77.06" r="1.85" fill="#0d64a8"/>
<circle cx="479.08" cy="75.76" r="1.85" fill="#0d64a8"/>
<circle cx="482.90" cy="74.51" r="1.85" fill="#0d64a8"/>
<circle cx="486.72" cy="73.22" r="1.85" fill="#0d64a8"/>
<circle cx="490.54" cy="71.98" r="1.85" fill="#0d64a8"/>
<circle cx="494.36" cy="70.62" r="1.85" fill="#0d64a8"/>
<circle cx="498.18" cy="69.51" r="1.85" fill="#0d64a8"/>
<circle cx="502.00" cy="68.63" r="1.85" fill="#0d64a8"/>
<circle cx="505.82" cy="66.86" r="1.85" fill="#0d64a8"/>
<circle cx="509.64" cy="65.70" r="1.85" fill="#0d64a8"/>
<polyline points="311.00,49.69 314.82,49.96 318.64,49.62 322.46,49.77 326.28,49.86 330.10,50.08 333.92,50.22 337.74,50.69 341.56,50.72 345.38,50.85 349.20,50.37 353.02,50.15 356.84,50.41 360.66,50.32 364.48,49.80 368.30,49.66 372.12,49.03 375.94,49.08 379.76,49.24 383.58,48.95 387.40,48.75 391.22,48.62 395.04,47.90 398.86,47.60 402.68,47.42 406.50,47.47 410.32,47.37 414.14,47.34 417.96,46.98 421.78,46.71 425.60,46.59 429.42,46.37 433.24,46.44 437.06,46.08 440.88,46.60 444.70,46.21 448.52,46.69 452.34,46.50 456.16,46.26 459.98,46.14 463.80,46.23 467.62,46.55 471.44,46.64 475.26,46.28 479.08,46.30 482.90,46.67 486.72,46.76 490.54,46.67 494.36,46.61 498.18,46.92 502.00,46.56 505.82,46.81 509.64,46.97" fill="none" stroke="#ffc000" stroke-width="1.70" stroke-linejoin="round"/>
<circle cx="311.00" cy="49.69" r="1.85" fill="#ffc000"/>
<circle cx="314.82" cy="49.96" r="1.85" fill="#ffc000"/>
<circle cx="318.64" cy="49.62" r="1.85" fill="#ffc000"/>
<circle cx="322.46" cy="49.77" r="1.85" fill="#ffc000"/>
<circle cx="326.28" cy="49.86" r="1.85" fill="#ffc000"/>
<circle cx="330.10" cy="50.08" r="1.85" fill="#ffc000"/>
<circle cx="333.92" cy="50.22" r="1.85" fill="#ffc000"/>
<circle cx="337.74" cy="50.69" r="1.85" fill="#ffc000"/>
<circle cx="341.56" cy="50.72" r="1.85" fill="#ffc000"/>
<circle cx="345.38" cy="50.85" r="1.85" fill="#ffc000"/>
<circle cx="349.20" cy="50.37" r="1.85" fill="#ffc000"/>
<circle cx="353.02" cy="50.15" r="1.85" fill="#ffc000"/>
<circle cx="356.84" cy="50.41" r="1.85" fill="#ffc000"/>
<circle cx="360.66" cy="50.32" r="1.85" fill="#ffc000"/>
<circle cx="364.48" cy="49.80" r="1.85" fill="#ffc000"/>
<circle cx="368.30" cy="49.66" r="1.85" fill="#ffc000"/>
<circle cx="372.12" cy="49.03" r="1.85" fill="#ffc000"/>
<circle cx="375.94" cy="49.08" r="1.85" fill="#ffc000"/>
<circle cx="379.76" cy="49.24" r="1.85" fill="#ffc000"/>
<circle cx="383.58" cy="48.95" r="1.85" fill="#ffc000"/>
<circle cx="387.40" cy="48.75" r="1.85" fill="#ffc000"/>
<circle cx="391.22" cy="48.62" r="1.85" fill="#ffc000"/>
<circle cx="395.04" cy="47.90" r="1.85" fill="#ffc000"/>
<circle cx="398.86" cy="47.60" r="1.85" fill="#ffc000"/>
<circle cx="402.68" cy="47.42" r="1.85" fill="#ffc000"/>
<circle cx="406.50" cy="47.47" r="1.85" fill="#ffc000"/>
<circle cx="410.32" cy="47.37" r="1.85" fill="#ffc000"/>
<circle cx="414.14" cy="47.34" r="1.85" fill="#ffc000"/>
<circle cx="417.96" cy="46.98" r="1.85" fill="#ffc000"/>
<circle cx="421.78" cy="46.71" r="1.85" fill="#ffc000"/>
<circle cx="425.60" cy="46.59" r="1.85" fill="#ffc000"/>
<circle cx="429.42" cy="46.37" r="1.85" fill="#ffc000"/>
<circle cx="433.24" cy="46.44" r="1.85" fill="#ffc000"/>
<circle cx="437.06" cy="46.08" r="1.85" fill="#ffc000"/>
<circle cx="440.88" cy="46.60" r="1.85" fill="#ffc000"/>
<circle cx="444.70" cy="46.21" r="1.85" fill="#ffc000"/>
<circle cx="448.52" cy="46.69" r="1.85" fill="#ffc000"/>
<circle cx="452.34" cy="46.50" r="1.85" fill="#ffc000"/>
<circle cx="456.16" cy="46.26" r="1.85" fill="#ffc000"/>
<circle cx="459.98" cy="46.14" r="1.85" fill="#ffc000"/>
<circle cx="463.80" cy="46.23" r="1.85" fill="#ffc000"/>
<circle cx="467.62" cy="46.55" r="1.85" fill="#ffc000"/>
<circle cx="471.44" cy="46.64" r="1.85" fill="#ffc000"/>
<circle cx="475.26" cy="46.28" r="1.85" fill="#ffc000"/>
<circle cx="479.08" cy="46.30" r="1.85" fill="#ffc000"/>
<circle cx="482.90" cy="46.67" r="1.85" fill="#ffc000"/>
<circle cx="486.72" cy="46.76" r="1.85" fill="#ffc000"/>
<circle cx="490.54" cy="46.67" r="1.85" fill="#ffc000"/>
<circle cx="494.36" cy="46.61" r="1.85" fill="#ffc000"/>
<circle cx="498.18" cy="46.92" r="1.85" fill="#ffc000"/>
<circle cx="502.00" cy="46.56" r="1.85" fill="#ffc000"/>
<circle cx="505.82" cy="46.81" r="1.85" fill="#ffc000"/>
<circle cx="509.64" cy="46.97" r="1.85" fill="#ffc000"/>
<rect x="311.00" y="19.30" width="229.20" height="133.00" fill="none" stroke="#000" stroke-width="1.75"/>
<line x1="308.80" y1="19.30" x2="311.00" y2="19.30" stroke="#000" stroke-width="1.2"/>
<line x1="540.20" y1="19.30" x2="542.40" y2="19.30" stroke="#000" stroke-width="1.2"/>
<text x="307.20" y="22.10" font-size="7.60" font-weight="bold" text-anchor="end" >5</text>
<line x1="308.80" y1="49.50" x2="311.00" y2="49.50" stroke="#000" stroke-width="1.2"/>
<line x1="540.20" y1="49.50" x2="542.40" y2="49.50" stroke="#000" stroke-width="1.2"/>
<text x="307.20" y="52.30" font-size="7.60" font-weight="bold" text-anchor="end" >0</text>
<line x1="308.80" y1="75.20" x2="311.00" y2="75.20" stroke="#000" stroke-width="1.2"/>
<line x1="540.20" y1="75.20" x2="542.40" y2="75.20" stroke="#000" stroke-width="1.2"/>
<text x="307.20" y="78.00" font-size="7.60" font-weight="bold" text-anchor="end" >&#8722;15</text>
<line x1="308.80" y1="104.60" x2="311.00" y2="104.60" stroke="#000" stroke-width="1.2"/>
<line x1="540.20" y1="104.60" x2="542.40" y2="104.60" stroke="#000" stroke-width="1.2"/>
<text x="307.20" y="107.40" font-size="7.60" font-weight="bold" text-anchor="end" >&#8722;20</text>
<line x1="308.80" y1="134.30" x2="311.00" y2="134.30" stroke="#000" stroke-width="1.2"/>
<line x1="540.20" y1="134.30" x2="542.40" y2="134.30" stroke="#000" stroke-width="1.2"/>
<text x="307.20" y="137.10" font-size="7.60" font-weight="bold" text-anchor="end" >&#8722;25</text>
<line x1="311.00" y1="152.30" x2="311.00" y2="154.10" stroke="#000" stroke-width="1.2"/>
<line x1="311.00" y1="17.50" x2="311.00" y2="19.30" stroke="#000" stroke-width="1.2"/>
<text x="311.00" y="161.60" font-size="7.60" font-weight="bold" text-anchor="middle" >0</text>
<line x1="349.20" y1="152.30" x2="349.20" y2="154.10" stroke="#000" stroke-width="1.2"/>
<line x1="349.20" y1="17.50" x2="349.20" y2="19.30" stroke="#000" stroke-width="1.2"/>
<text x="349.20" y="161.60" font-size="7.60" font-weight="bold" text-anchor="middle" >10</text>
<line x1="387.40" y1="152.30" x2="387.40" y2="154.10" stroke="#000" stroke-width="1.2"/>
<line x1="387.40" y1="17.50" x2="387.40" y2="19.30" stroke="#000" stroke-width="1.2"/>
<text x="387.40" y="161.60" font-size="7.60" font-weight="bold" text-anchor="middle" >20</text>
<line x1="425.60" y1="152.30" x2="425.60" y2="154.10" stroke="#000" stroke-width="1.2"/>
<line x1="425.60" y1="17.50" x2="425.60" y2="19.30" stroke="#000" stroke-width="1.2"/>
<text x="425.60" y="161.60" font-size="7.60" font-weight="bold" text-anchor="middle" >30</text>
<line x1="463.80" y1="152.30" x2="463.80" y2="154.10" stroke="#000" stroke-width="1.2"/>
<line x1="463.80" y1="17.50" x2="463.80" y2="19.30" stroke="#000" stroke-width="1.2"/>
<text x="463.80" y="161.60" font-size="7.60" font-weight="bold" text-anchor="middle" >40</text>
<line x1="502.00" y1="152.30" x2="502.00" y2="154.10" stroke="#000" stroke-width="1.2"/>
<line x1="502.00" y1="17.50" x2="502.00" y2="19.30" stroke="#000" stroke-width="1.2"/>
<text x="502.00" y="161.60" font-size="7.60" font-weight="bold" text-anchor="middle" >50</text>
<line x1="540.20" y1="152.30" x2="540.20" y2="154.10" stroke="#000" stroke-width="1.2"/>
<line x1="540.20" y1="17.50" x2="540.20" y2="19.30" stroke="#000" stroke-width="1.2"/>
<text x="540.20" y="161.60" font-size="7.60" font-weight="bold" text-anchor="middle" >60</text>
<rect x="309.20" y="61.40" width="3.6" height="1.8" fill="#fff"/>
<path d="M308.60,61.70 L313.40,59.70 M308.60,64.90 L313.40,62.90" fill="none" stroke="#000" stroke-width="1.5"/>
<rect x="538.40" y="61.40" width="3.6" height="1.8" fill="#fff"/>
<path d="M537.80,61.70 L542.60,59.70 M537.80,64.90 L542.60,62.90" fill="none" stroke="#000" stroke-width="1.5"/>
<text x="425.60" y="174.70" font-size="10.20" font-weight="bold" text-anchor="middle"  stroke="#111" stroke-width="0.22">Cycle number</text>
<text x="425.60" y="12.30" font-size="9.60" font-weight="bold" text-anchor="middle"  stroke="#111" stroke-width="0.22">Estimated error</text>
<text x="0" y="0" font-size="9.00" font-weight="bold" text-anchor="middle" stroke="#111" stroke-width="0.25" textLength="37.2" lengthAdjust="spacingAndGlyphs" transform="translate(289.9,85.30) rotate(-90)">Error (%)</text>
<rect x="472.80" y="121.80" width="60.80" height="24.50" fill="#fff" stroke="#333" stroke-width="1.1"/>
<line x1="473.30" y1="128.50" x2="495.30" y2="128.50" stroke="#0d64a8" stroke-width="1.6"/>
<circle cx="484.30" cy="128.50" r="1.7" fill="#0d64a8"/>
<text x="494.80" y="131.40" font-size="8.60" font-weight="bold" text-anchor="start" textLength="34.2" lengthAdjust="spacingAndGlyphs" stroke="#111" stroke-width="0.22">Before TL</text>
<line x1="473.30" y1="140.30" x2="495.30" y2="140.30" stroke="#ffc000" stroke-width="1.6"/>
<circle cx="484.30" cy="140.30" r="1.7" fill="#ffc000"/>
<text x="494.80" y="143.20" font-size="8.60" font-weight="bold" text-anchor="start" textLength="30.2" lengthAdjust="spacingAndGlyphs" stroke="#111" stroke-width="0.22">After TL</text>
<line x1="330.10" y1="212.30" x2="330.10" y2="345.50" stroke="#8e8e8e" stroke-width="1.25"/>
<line x1="349.20" y1="212.30" x2="349.20" y2="345.50" stroke="#8e8e8e" stroke-width="1.25"/>
<line x1="368.30" y1="212.30" x2="368.30" y2="345.50" stroke="#8e8e8e" stroke-width="1.25"/>
<line x1="387.40" y1="212.30" x2="387.40" y2="345.50" stroke="#8e8e8e" stroke-width="1.25"/>
<line x1="406.50" y1="212.30" x2="406.50" y2="345.50" stroke="#8e8e8e" stroke-width="1.25"/>
<line x1="425.60" y1="212.30" x2="425.60" y2="345.50" stroke="#8e8e8e" stroke-width="1.25"/>
<line x1="444.70" y1="212.30" x2="444.70" y2="345.50" stroke="#8e8e8e" stroke-width="1.25"/>
<line x1="463.80" y1="212.30" x2="463.80" y2="345.50" stroke="#8e8e8e" stroke-width="1.25"/>
<line x1="482.90" y1="212.30" x2="482.90" y2="345.50" stroke="#8e8e8e" stroke-width="1.25"/>
<line x1="502.00" y1="212.30" x2="502.00" y2="345.50" stroke="#8e8e8e" stroke-width="1.25"/>
<line x1="521.10" y1="212.30" x2="521.10" y2="345.50" stroke="#8e8e8e" stroke-width="1.25"/>
<line x1="311.00" y1="238.40" x2="540.20" y2="238.40" stroke="#8e8e8e" stroke-width="1.25"/>
<line x1="311.00" y1="270.30" x2="540.20" y2="270.30" stroke="#8e8e8e" stroke-width="1.25"/>
<line x1="311.00" y1="295.20" x2="540.20" y2="295.20" stroke="#8e8e8e" stroke-width="1.25"/>
<line x1="311.00" y1="320.60" x2="540.20" y2="320.60" stroke="#8e8e8e" stroke-width="1.25"/>
<polyline points="311.00,323.23 314.82,322.07 318.64,321.19 322.46,319.99 326.28,318.87 330.10,317.87 333.92,317.47 337.74,316.58 341.56,315.62 345.38,314.72 349.20,314.20 353.02,312.99 356.84,311.56 360.66,310.18 364.48,309.08 368.30,307.91 372.12,306.02 375.94,304.39 379.76,303.00 383.58,301.50 387.40,300.09 391.22,298.49 395.04,297.43 398.86,296.04 402.68,294.56 406.50,293.05 410.32,291.89 414.14,290.03 417.96,288.74 421.78,286.91 425.60,285.36 429.42,283.73 433.24,282.85 437.06,282.53 440.88,281.65 444.70,280.84 448.52,279.86 452.34,278.96 456.16,278.08 459.98,277.22 463.80,275.82 467.62,274.65 471.44,273.26 475.26,272.34 479.08,270.62 482.90,269.28 486.72,268.52 490.54,267.93 494.36,267.42 498.18,266.65 502.00,265.82 505.82,264.80 509.64,263.62" fill="none" stroke="#0d64a8" stroke-width="1.70" stroke-linejoin="round"/>
<circle cx="311.00" cy="323.23" r="1.85" fill="#0d64a8"/>
<circle cx="314.82" cy="322.07" r="1.85" fill="#0d64a8"/>
<circle cx="318.64" cy="321.19" r="1.85" fill="#0d64a8"/>
<circle cx="322.46" cy="319.99" r="1.85" fill="#0d64a8"/>
<circle cx="326.28" cy="318.87" r="1.85" fill="#0d64a8"/>
<circle cx="330.10" cy="317.87" r="1.85" fill="#0d64a8"/>
<circle cx="333.92" cy="317.47" r="1.85" fill="#0d64a8"/>
<circle cx="337.74" cy="316.58" r="1.85" fill="#0d64a8"/>
<circle cx="341.56" cy="315.62" r="1.85" fill="#0d64a8"/>
<circle cx="345.38" cy="314.72" r="1.85" fill="#0d64a8"/>
<circle cx="349.20" cy="314.20" r="1.85" fill="#0d64a8"/>
<circle cx="353.02" cy="312.99" r="1.85" fill="#0d64a8"/>
<circle cx="356.84" cy="311.56" r="1.85" fill="#0d64a8"/>
<circle cx="360.66" cy="310.18" r="1.85" fill="#0d64a8"/>
<circle cx="364.48" cy="309.08" r="1.85" fill="#0d64a8"/>
<circle cx="368.30" cy="307.91" r="1.85" fill="#0d64a8"/>
<circle cx="372.12" cy="306.02" r="1.85" fill="#0d64a8"/>
<circle cx="375.94" cy="304.39" r="1.85" fill="#0d64a8"/>
<circle cx="379.76" cy="303.00" r="1.85" fill="#0d64a8"/>
<circle cx="383.58" cy="301.50" r="1.85" fill="#0d64a8"/>
<circle cx="387.40" cy="300.09" r="1.85" fill="#0d64a8"/>
<circle cx="391.22" cy="298.49" r="1.85" fill="#0d64a8"/>
<circle cx="395.04" cy="297.43" r="1.85" fill="#0d64a8"/>
<circle cx="398.86" cy="296.04" r="1.85" fill="#0d64a8"/>
<circle cx="402.68" cy="294.56" r="1.85" fill="#0d64a8"/>
<circle cx="406.50" cy="293.05" r="1.85" fill="#0d64a8"/>
<circle cx="410.32" cy="291.89" r="1.85" fill="#0d64a8"/>
<circle cx="414.14" cy="290.03" r="1.85" fill="#0d64a8"/>
<circle cx="417.96" cy="288.74" r="1.85" fill="#0d64a8"/>
<circle cx="421.78" cy="286.91" r="1.85" fill="#0d64a8"/>
<circle cx="425.60" cy="285.36" r="1.85" fill="#0d64a8"/>
<circle cx="429.42" cy="283.73" r="1.85" fill="#0d64a8"/>
<circle cx="433.24" cy="282.85" r="1.85" fill="#0d64a8"/>
<circle cx="437.06" cy="282.53" r="1.85" fill="#0d64a8"/>
<circle cx="440.88" cy="281.65" r="1.85" fill="#0d64a8"/>
<circle cx="444.70" cy="280.84" r="1.85" fill="#0d64a8"/>
<circle cx="448.52" cy="279.86" r="1.85" fill="#0d64a8"/>
<circle cx="452.34" cy="278.96" r="1.85" fill="#0d64a8"/>
<circle cx="456.16" cy="278.08" r="1.85" fill="#0d64a8"/>
<circle cx="459.98" cy="277.22" r="1.85" fill="#0d64a8"/>
<circle cx="463.80" cy="275.82" r="1.85" fill="#0d64a8"/>
<circle cx="467.62" cy="274.65" r="1.85" fill="#0d64a8"/>
<circle cx="471.44" cy="273.26" r="1.85" fill="#0d64a8"/>
<circle cx="475.26" cy="272.34" r="1.85" fill="#0d64a8"/>
<circle cx="479.08" cy="270.62" r="1.85" fill="#0d64a8"/>
<circle cx="482.90" cy="269.28" r="1.85" fill="#0d64a8"/>
<circle cx="486.72" cy="268.52" r="1.85" fill="#0d64a8"/>
<circle cx="490.54" cy="267.93" r="1.85" fill="#0d64a8"/>
<circle cx="494.36" cy="267.42" r="1.85" fill="#0d64a8"/>
<circle cx="498.18" cy="266.65" r="1.85" fill="#0d64a8"/>
<circle cx="502.00" cy="265.82" r="1.85" fill="#0d64a8"/>
<circle cx="505.82" cy="264.80" r="1.85" fill="#0d64a8"/>
<circle cx="509.64" cy="263.62" r="1.85" fill="#0d64a8"/>
<polyline points="311.00,238.88 314.82,238.73 318.64,239.21 322.46,239.02 326.28,238.47 330.10,238.87 333.92,238.62 337.74,238.56 341.56,238.48 345.38,238.32 349.20,238.15 353.02,238.30 356.84,238.30 360.66,238.67 364.48,238.04 368.30,238.57 372.12,238.00 375.94,238.05 379.76,238.33 383.58,238.28 387.40,237.95 391.22,237.54 395.04,237.70 398.86,237.48 402.68,237.72 406.50,237.07 410.32,237.05 414.14,237.28 417.96,236.77 421.78,237.14 425.60,237.52 429.42,237.59 433.24,237.18 437.06,239.27 440.88,237.19 444.70,237.77 448.52,237.27 452.34,237.59 456.16,237.67 459.98,237.25 463.80,237.17 467.62,237.63 471.44,237.36 475.26,237.08 479.08,237.37 482.90,237.07 486.72,237.01 490.54,236.79 494.36,237.29 498.18,237.37 502.00,237.15 505.82,237.34 509.64,236.67" fill="none" stroke="#ffc000" stroke-width="1.70" stroke-linejoin="round"/>
<circle cx="311.00" cy="238.88" r="1.85" fill="#ffc000"/>
<circle cx="314.82" cy="238.73" r="1.85" fill="#ffc000"/>
<circle cx="318.64" cy="239.21" r="1.85" fill="#ffc000"/>
<circle cx="322.46" cy="239.02" r="1.85" fill="#ffc000"/>
<circle cx="326.28" cy="238.47" r="1.85" fill="#ffc000"/>
<circle cx="330.10" cy="238.87" r="1.85" fill="#ffc000"/>
<circle cx="333.92" cy="238.62" r="1.85" fill="#ffc000"/>
<circle cx="337.74" cy="238.56" r="1.85" fill="#ffc000"/>
<circle cx="341.56" cy="238.48" r="1.85" fill="#ffc000"/>
<circle cx="345.38" cy="238.32" r="1.85" fill="#ffc000"/>
<circle cx="349.20" cy="238.15" r="1.85" fill="#ffc000"/>
<circle cx="353.02" cy="238.30" r="1.85" fill="#ffc000"/>
<circle cx="356.84" cy="238.30" r="1.85" fill="#ffc000"/>
<circle cx="360.66" cy="238.67" r="1.85" fill="#ffc000"/>
<circle cx="364.48" cy="238.04" r="1.85" fill="#ffc000"/>
<circle cx="368.30" cy="238.57" r="1.85" fill="#ffc000"/>
<circle cx="372.12" cy="238.00" r="1.85" fill="#ffc000"/>
<circle cx="375.94" cy="238.05" r="1.85" fill="#ffc000"/>
<circle cx="379.76" cy="238.33" r="1.85" fill="#ffc000"/>
<circle cx="383.58" cy="238.28" r="1.85" fill="#ffc000"/>
<circle cx="387.40" cy="237.95" r="1.85" fill="#ffc000"/>
<circle cx="391.22" cy="237.54" r="1.85" fill="#ffc000"/>
<circle cx="395.04" cy="237.70" r="1.85" fill="#ffc000"/>
<circle cx="398.86" cy="237.48" r="1.85" fill="#ffc000"/>
<circle cx="402.68" cy="237.72" r="1.85" fill="#ffc000"/>
<circle cx="406.50" cy="237.07" r="1.85" fill="#ffc000"/>
<circle cx="410.32" cy="237.05" r="1.85" fill="#ffc000"/>
<circle cx="414.14" cy="237.28" r="1.85" fill="#ffc000"/>
<circle cx="417.96" cy="236.77" r="1.85" fill="#ffc000"/>
<circle cx="421.78" cy="237.14" r="1.85" fill="#ffc000"/>
<circle cx="425.60" cy="237.52" r="1.85" fill="#ffc000"/>
<circle cx="429.42" cy="237.59" r="1.85" fill="#ffc000"/>
<circle cx="433.24" cy="237.18" r="1.85" fill="#ffc000"/>
<circle cx="437.06" cy="239.27" r="1.85" fill="#ffc000"/>
<circle cx="440.88" cy="237.19" r="1.85" fill="#ffc000"/>
<circle cx="444.70" cy="237.77" r="1.85" fill="#ffc000"/>
<circle cx="448.52" cy="237.27" r="1.85" fill="#ffc000"/>
<circle cx="452.34" cy="237.59" r="1.85" fill="#ffc000"/>
<circle cx="456.16" cy="237.67" r="1.85" fill="#ffc000"/>
<circle cx="459.98" cy="237.25" r="1.85" fill="#ffc000"/>
<circle cx="463.80" cy="237.17" r="1.85" fill="#ffc000"/>
<circle cx="467.62" cy="237.63" r="1.85" fill="#ffc000"/>
<circle cx="471.44" cy="237.36" r="1.85" fill="#ffc000"/>
<circle cx="475.26" cy="237.08" r="1.85" fill="#ffc000"/>
<circle cx="479.08" cy="237.37" r="1.85" fill="#ffc000"/>
<circle cx="482.90" cy="237.07" r="1.85" fill="#ffc000"/>
<circle cx="486.72" cy="237.01" r="1.85" fill="#ffc000"/>
<circle cx="490.54" cy="236.79" r="1.85" fill="#ffc000"/>
<circle cx="494.36" cy="237.29" r="1.85" fill="#ffc000"/>
<circle cx="498.18" cy="237.37" r="1.85" fill="#ffc000"/>
<circle cx="502.00" cy="237.15" r="1.85" fill="#ffc000"/>
<circle cx="505.82" cy="237.34" r="1.85" fill="#ffc000"/>
<circle cx="509.64" cy="236.67" r="1.85" fill="#ffc000"/>
<rect x="311.00" y="212.30" width="229.20" height="133.20" fill="none" stroke="#000" stroke-width="1.75"/>
<line x1="308.80" y1="212.20" x2="311.00" y2="212.20" stroke="#000" stroke-width="1.2"/>
<line x1="540.20" y1="212.20" x2="542.40" y2="212.20" stroke="#000" stroke-width="1.2"/>
<text x="307.20" y="215.00" font-size="7.60" font-weight="bold" text-anchor="end" >5</text>
<line x1="308.80" y1="238.40" x2="311.00" y2="238.40" stroke="#000" stroke-width="1.2"/>
<line x1="540.20" y1="238.40" x2="542.40" y2="238.40" stroke="#000" stroke-width="1.2"/>
<text x="307.20" y="241.20" font-size="7.60" font-weight="bold" text-anchor="end" >0</text>
<line x1="308.80" y1="270.30" x2="311.00" y2="270.30" stroke="#000" stroke-width="1.2"/>
<line x1="540.20" y1="270.30" x2="542.40" y2="270.30" stroke="#000" stroke-width="1.2"/>
<text x="307.20" y="273.10" font-size="7.60" font-weight="bold" text-anchor="end" >&#8722;15</text>
<line x1="308.80" y1="295.20" x2="311.00" y2="295.20" stroke="#000" stroke-width="1.2"/>
<line x1="540.20" y1="295.20" x2="542.40" y2="295.20" stroke="#000" stroke-width="1.2"/>
<text x="307.20" y="298.00" font-size="7.60" font-weight="bold" text-anchor="end" >&#8722;20</text>
<line x1="308.80" y1="320.60" x2="311.00" y2="320.60" stroke="#000" stroke-width="1.2"/>
<line x1="540.20" y1="320.60" x2="542.40" y2="320.60" stroke="#000" stroke-width="1.2"/>
<text x="307.20" y="323.40" font-size="7.60" font-weight="bold" text-anchor="end" >&#8722;25</text>
<line x1="308.80" y1="345.50" x2="311.00" y2="345.50" stroke="#000" stroke-width="1.2"/>
<line x1="540.20" y1="345.50" x2="542.40" y2="345.50" stroke="#000" stroke-width="1.2"/>
<text x="307.20" y="348.30" font-size="7.60" font-weight="bold" text-anchor="end" >&#8722;30</text>
<line x1="311.00" y1="345.50" x2="311.00" y2="347.30" stroke="#000" stroke-width="1.2"/>
<line x1="311.00" y1="210.50" x2="311.00" y2="212.30" stroke="#000" stroke-width="1.2"/>
<text x="311.00" y="354.80" font-size="7.60" font-weight="bold" text-anchor="middle" >0</text>
<line x1="330.10" y1="345.50" x2="330.10" y2="347.30" stroke="#000" stroke-width="1.2"/>
<line x1="330.10" y1="210.50" x2="330.10" y2="212.30" stroke="#000" stroke-width="1.2"/>
<text x="330.10" y="354.80" font-size="7.60" font-weight="bold" text-anchor="middle" >5</text>
<line x1="349.20" y1="345.50" x2="349.20" y2="347.30" stroke="#000" stroke-width="1.2"/>
<line x1="349.20" y1="210.50" x2="349.20" y2="212.30" stroke="#000" stroke-width="1.2"/>
<text x="349.20" y="354.80" font-size="7.60" font-weight="bold" text-anchor="middle" >10</text>
<line x1="368.30" y1="345.50" x2="368.30" y2="347.30" stroke="#000" stroke-width="1.2"/>
<line x1="368.30" y1="210.50" x2="368.30" y2="212.30" stroke="#000" stroke-width="1.2"/>
<text x="368.30" y="354.80" font-size="7.60" font-weight="bold" text-anchor="middle" >15</text>
<line x1="387.40" y1="345.50" x2="387.40" y2="347.30" stroke="#000" stroke-width="1.2"/>
<line x1="387.40" y1="210.50" x2="387.40" y2="212.30" stroke="#000" stroke-width="1.2"/>
<text x="387.40" y="354.80" font-size="7.60" font-weight="bold" text-anchor="middle" >20</text>
<line x1="406.50" y1="345.50" x2="406.50" y2="347.30" stroke="#000" stroke-width="1.2"/>
<line x1="406.50" y1="210.50" x2="406.50" y2="212.30" stroke="#000" stroke-width="1.2"/>
<text x="406.50" y="354.80" font-size="7.60" font-weight="bold" text-anchor="middle" >25</text>
<line x1="425.60" y1="345.50" x2="425.60" y2="347.30" stroke="#000" stroke-width="1.2"/>
<line x1="425.60" y1="210.50" x2="425.60" y2="212.30" stroke="#000" stroke-width="1.2"/>
<text x="425.60" y="354.80" font-size="7.60" font-weight="bold" text-anchor="middle" >30</text>
<line x1="444.70" y1="345.50" x2="444.70" y2="347.30" stroke="#000" stroke-width="1.2"/>
<line x1="444.70" y1="210.50" x2="444.70" y2="212.30" stroke="#000" stroke-width="1.2"/>
<text x="444.70" y="354.80" font-size="7.60" font-weight="bold" text-anchor="middle" >35</text>
<line x1="463.80" y1="345.50" x2="463.80" y2="347.30" stroke="#000" stroke-width="1.2"/>
<line x1="463.80" y1="210.50" x2="463.80" y2="212.30" stroke="#000" stroke-width="1.2"/>
<text x="463.80" y="354.80" font-size="7.60" font-weight="bold" text-anchor="middle" >40</text>
<line x1="482.90" y1="345.50" x2="482.90" y2="347.30" stroke="#000" stroke-width="1.2"/>
<line x1="482.90" y1="210.50" x2="482.90" y2="212.30" stroke="#000" stroke-width="1.2"/>
<text x="482.90" y="354.80" font-size="7.60" font-weight="bold" text-anchor="middle" >45</text>
<line x1="502.00" y1="345.50" x2="502.00" y2="347.30" stroke="#000" stroke-width="1.2"/>
<line x1="502.00" y1="210.50" x2="502.00" y2="212.30" stroke="#000" stroke-width="1.2"/>
<text x="502.00" y="354.80" font-size="7.60" font-weight="bold" text-anchor="middle" >50</text>
<line x1="521.10" y1="345.50" x2="521.10" y2="347.30" stroke="#000" stroke-width="1.2"/>
<line x1="521.10" y1="210.50" x2="521.10" y2="212.30" stroke="#000" stroke-width="1.2"/>
<text x="521.10" y="354.80" font-size="7.60" font-weight="bold" text-anchor="middle" >55</text>
<line x1="540.20" y1="345.50" x2="540.20" y2="347.30" stroke="#000" stroke-width="1.2"/>
<line x1="540.20" y1="210.50" x2="540.20" y2="212.30" stroke="#000" stroke-width="1.2"/>
<text x="540.20" y="354.80" font-size="7.60" font-weight="bold" text-anchor="middle" >60</text>
<rect x="309.20" y="258.60" width="3.6" height="1.8" fill="#fff"/>
<path d="M308.60,258.90 L313.40,256.90 M308.60,262.10 L313.40,260.10" fill="none" stroke="#000" stroke-width="1.5"/>
<rect x="538.40" y="258.60" width="3.6" height="1.8" fill="#fff"/>
<path d="M537.80,258.90 L542.60,256.90 M537.80,262.10 L542.60,260.10" fill="none" stroke="#000" stroke-width="1.5"/>
<text x="425.60" y="367.90" font-size="10.20" font-weight="bold" text-anchor="middle"  stroke="#111" stroke-width="0.22">Cycle number</text>
<text x="425.60" y="205.30" font-size="9.60" font-weight="bold" text-anchor="middle"  stroke="#111" stroke-width="0.22">Estimated error</text>
<text x="0" y="0" font-size="9.00" font-weight="bold" text-anchor="middle" stroke="#111" stroke-width="0.25" textLength="37.2" lengthAdjust="spacingAndGlyphs" transform="translate(289.9,278.40) rotate(-90)">Error (%)</text>
<rect x="472.80" y="315.50" width="60.60" height="25.00" fill="#fff" stroke="#333" stroke-width="1.1"/>
<line x1="473.30" y1="322.30" x2="495.30" y2="322.30" stroke="#0d64a8" stroke-width="1.6"/>
<circle cx="484.30" cy="322.30" r="1.7" fill="#0d64a8"/>
<text x="494.80" y="325.20" font-size="8.60" font-weight="bold" text-anchor="start" textLength="34.2" lengthAdjust="spacingAndGlyphs" stroke="#111" stroke-width="0.22">Before TL</text>
<line x1="473.30" y1="333.70" x2="495.30" y2="333.70" stroke="#ffc000" stroke-width="1.6"/>
<circle cx="484.30" cy="333.70" r="1.7" fill="#ffc000"/>
<text x="494.80" y="336.60" font-size="8.60" font-weight="bold" text-anchor="start" textLength="30.2" lengthAdjust="spacingAndGlyphs" stroke="#111" stroke-width="0.22">After TL</text>
<line x1="336.47" y1="405.80" x2="336.47" y2="538.80" stroke="#8e8e8e" stroke-width="1.25"/>
<line x1="361.93" y1="405.80" x2="361.93" y2="538.80" stroke="#8e8e8e" stroke-width="1.25"/>
<line x1="387.40" y1="405.80" x2="387.40" y2="538.80" stroke="#8e8e8e" stroke-width="1.25"/>
<line x1="412.87" y1="405.80" x2="412.87" y2="538.80" stroke="#8e8e8e" stroke-width="1.25"/>
<line x1="438.33" y1="405.80" x2="438.33" y2="538.80" stroke="#8e8e8e" stroke-width="1.25"/>
<line x1="463.80" y1="405.80" x2="463.80" y2="538.80" stroke="#8e8e8e" stroke-width="1.25"/>
<line x1="489.27" y1="405.80" x2="489.27" y2="538.80" stroke="#8e8e8e" stroke-width="1.25"/>
<line x1="514.73" y1="405.80" x2="514.73" y2="538.80" stroke="#8e8e8e" stroke-width="1.25"/>
<line x1="311.00" y1="433.20" x2="540.20" y2="433.20" stroke="#8e8e8e" stroke-width="1.25"/>
<line x1="311.00" y1="457.40" x2="540.20" y2="457.40" stroke="#8e8e8e" stroke-width="1.25"/>
<line x1="311.00" y1="484.80" x2="540.20" y2="484.80" stroke="#8e8e8e" stroke-width="1.25"/>
<line x1="311.00" y1="512.00" x2="540.20" y2="512.00" stroke="#8e8e8e" stroke-width="1.25"/>
<polyline points="311.00,513.27 316.09,511.89 321.19,510.63 326.28,509.33 331.37,507.74 336.47,506.38 341.56,505.36 346.65,504.30 351.75,503.05 356.84,501.21 361.93,500.05 367.03,498.07 372.12,496.16 377.21,493.54 382.31,490.15 387.40,486.31 392.49,484.11 397.59,482.73 402.68,481.54 407.77,479.24 412.87,477.35 417.96,476.13 423.05,474.37 428.15,472.82 433.24,471.33 438.33,470.13 443.43,468.46 448.52,467.24 453.61,467.69 458.71,466.14 463.80,464.18 468.89,462.69 473.99,461.30 479.08,460.43 484.17,459.47 489.27,458.27 494.36,457.07 499.45,455.81 504.55,454.56 509.64,453.49 514.73,452.42" fill="none" stroke="#0d64a8" stroke-width="1.70" stroke-linejoin="round"/>
<circle cx="311.00" cy="513.27" r="1.85" fill="#0d64a8"/>
<circle cx="316.09" cy="511.89" r="1.85" fill="#0d64a8"/>
<circle cx="321.19" cy="510.63" r="1.85" fill="#0d64a8"/>
<circle cx="326.28" cy="509.33" r="1.85" fill="#0d64a8"/>
<circle cx="331.37" cy="507.74" r="1.85" fill="#0d64a8"/>
<circle cx="336.47" cy="506.38" r="1.85" fill="#0d64a8"/>
<circle cx="341.56" cy="505.36" r="1.85" fill="#0d64a8"/>
<circle cx="346.65" cy="504.30" r="1.85" fill="#0d64a8"/>
<circle cx="351.75" cy="503.05" r="1.85" fill="#0d64a8"/>
<circle cx="356.84" cy="501.21" r="1.85" fill="#0d64a8"/>
<circle cx="361.93" cy="500.05" r="1.85" fill="#0d64a8"/>
<circle cx="367.03" cy="498.07" r="1.85" fill="#0d64a8"/>
<circle cx="372.12" cy="496.16" r="1.85" fill="#0d64a8"/>
<circle cx="377.21" cy="493.54" r="1.85" fill="#0d64a8"/>
<circle cx="382.31" cy="490.15" r="1.85" fill="#0d64a8"/>
<circle cx="387.40" cy="486.31" r="1.85" fill="#0d64a8"/>
<circle cx="392.49" cy="484.11" r="1.85" fill="#0d64a8"/>
<circle cx="397.59" cy="482.73" r="1.85" fill="#0d64a8"/>
<circle cx="402.68" cy="481.54" r="1.85" fill="#0d64a8"/>
<circle cx="407.77" cy="479.24" r="1.85" fill="#0d64a8"/>
<circle cx="412.87" cy="477.35" r="1.85" fill="#0d64a8"/>
<circle cx="417.96" cy="476.13" r="1.85" fill="#0d64a8"/>
<circle cx="423.05" cy="474.37" r="1.85" fill="#0d64a8"/>
<circle cx="428.15" cy="472.82" r="1.85" fill="#0d64a8"/>
<circle cx="433.24" cy="471.33" r="1.85" fill="#0d64a8"/>
<circle cx="438.33" cy="470.13" r="1.85" fill="#0d64a8"/>
<circle cx="443.43" cy="468.46" r="1.85" fill="#0d64a8"/>
<circle cx="448.52" cy="467.24" r="1.85" fill="#0d64a8"/>
<circle cx="453.61" cy="467.69" r="1.85" fill="#0d64a8"/>
<circle cx="458.71" cy="466.14" r="1.85" fill="#0d64a8"/>
<circle cx="463.80" cy="464.18" r="1.85" fill="#0d64a8"/>
<circle cx="468.89" cy="462.69" r="1.85" fill="#0d64a8"/>
<circle cx="473.99" cy="461.30" r="1.85" fill="#0d64a8"/>
<circle cx="479.08" cy="460.43" r="1.85" fill="#0d64a8"/>
<circle cx="484.17" cy="459.47" r="1.85" fill="#0d64a8"/>
<circle cx="489.27" cy="458.27" r="1.85" fill="#0d64a8"/>
<circle cx="494.36" cy="457.07" r="1.85" fill="#0d64a8"/>
<circle cx="499.45" cy="455.81" r="1.85" fill="#0d64a8"/>
<circle cx="504.55" cy="454.56" r="1.85" fill="#0d64a8"/>
<circle cx="509.64" cy="453.49" r="1.85" fill="#0d64a8"/>
<circle cx="514.73" cy="452.42" r="1.85" fill="#0d64a8"/>
<polyline points="311.00,431.64 316.09,432.12 321.19,432.23 326.28,433.24 331.37,433.19 336.47,433.71 341.56,433.91 346.65,436.77 351.75,436.39 356.84,436.42 361.93,436.42 367.03,436.12 372.12,436.39 377.21,435.93 382.31,435.52 387.40,435.33 392.49,435.66 397.59,435.25 402.68,434.97 407.77,435.30 412.87,435.11 417.96,435.34 423.05,434.72 428.15,434.98 433.24,435.22 438.33,435.24 443.43,435.29 448.52,433.08 453.61,434.86 458.71,434.76 463.80,434.84 468.89,435.42 473.99,435.17 479.08,435.44 484.17,435.08 489.27,435.46 494.36,435.56 499.45,435.83 504.55,435.86 509.64,435.65 514.73,434.72" fill="none" stroke="#ffc000" stroke-width="1.70" stroke-linejoin="round"/>
<circle cx="311.00" cy="431.64" r="1.85" fill="#ffc000"/>
<circle cx="316.09" cy="432.12" r="1.85" fill="#ffc000"/>
<circle cx="321.19" cy="432.23" r="1.85" fill="#ffc000"/>
<circle cx="326.28" cy="433.24" r="1.85" fill="#ffc000"/>
<circle cx="331.37" cy="433.19" r="1.85" fill="#ffc000"/>
<circle cx="336.47" cy="433.71" r="1.85" fill="#ffc000"/>
<circle cx="341.56" cy="433.91" r="1.85" fill="#ffc000"/>
<circle cx="346.65" cy="436.77" r="1.85" fill="#ffc000"/>
<circle cx="351.75" cy="436.39" r="1.85" fill="#ffc000"/>
<circle cx="356.84" cy="436.42" r="1.85" fill="#ffc000"/>
<circle cx="361.93" cy="436.42" r="1.85" fill="#ffc000"/>
<circle cx="367.03" cy="436.12" r="1.85" fill="#ffc000"/>
<circle cx="372.12" cy="436.39" r="1.85" fill="#ffc000"/>
<circle cx="377.21" cy="435.93" r="1.85" fill="#ffc000"/>
<circle cx="382.31" cy="435.52" r="1.85" fill="#ffc000"/>
<circle cx="387.40" cy="435.33" r="1.85" fill="#ffc000"/>
<circle cx="392.49" cy="435.66" r="1.85" fill="#ffc000"/>
<circle cx="397.59" cy="435.25" r="1.85" fill="#ffc000"/>
<circle cx="402.68" cy="434.97" r="1.85" fill="#ffc000"/>
<circle cx="407.77" cy="435.30" r="1.85" fill="#ffc000"/>
<circle cx="412.87" cy="435.11" r="1.85" fill="#ffc000"/>
<circle cx="417.96" cy="435.34" r="1.85" fill="#ffc000"/>
<circle cx="423.05" cy="434.72" r="1.85" fill="#ffc000"/>
<circle cx="428.15" cy="434.98" r="1.85" fill="#ffc000"/>
<circle cx="433.24" cy="435.22" r="1.85" fill="#ffc000"/>
<circle cx="438.33" cy="435.24" r="1.85" fill="#ffc000"/>
<circle cx="443.43" cy="435.29" r="1.85" fill="#ffc000"/>
<circle cx="448.52" cy="433.08" r="1.85" fill="#ffc000"/>
<circle cx="453.61" cy="434.86" r="1.85" fill="#ffc000"/>
<circle cx="458.71" cy="434.76" r="1.85" fill="#ffc000"/>
<circle cx="463.80" cy="434.84" r="1.85" fill="#ffc000"/>
<circle cx="468.89" cy="435.42" r="1.85" fill="#ffc000"/>
<circle cx="473.99" cy="435.17" r="1.85" fill="#ffc000"/>
<circle cx="479.08" cy="435.44" r="1.85" fill="#ffc000"/>
<circle cx="484.17" cy="435.08" r="1.85" fill="#ffc000"/>
<circle cx="489.27" cy="435.46" r="1.85" fill="#ffc000"/>
<circle cx="494.36" cy="435.56" r="1.85" fill="#ffc000"/>
<circle cx="499.45" cy="435.83" r="1.85" fill="#ffc000"/>
<circle cx="504.55" cy="435.86" r="1.85" fill="#ffc000"/>
<circle cx="509.64" cy="435.65" r="1.85" fill="#ffc000"/>
<circle cx="514.73" cy="434.72" r="1.85" fill="#ffc000"/>
<rect x="311.00" y="405.80" width="229.20" height="133.00" fill="none" stroke="#000" stroke-width="1.75"/>
<line x1="308.80" y1="405.80" x2="311.00" y2="405.80" stroke="#000" stroke-width="1.2"/>
<line x1="540.20" y1="405.80" x2="542.40" y2="405.80" stroke="#000" stroke-width="1.2"/>
<text x="307.20" y="408.60" font-size="7.60" font-weight="bold" text-anchor="end" >5</text>
<line x1="308.80" y1="433.20" x2="311.00" y2="433.20" stroke="#000" stroke-width="1.2"/>
<line x1="540.20" y1="433.20" x2="542.40" y2="433.20" stroke="#000" stroke-width="1.2"/>
<text x="307.20" y="436.00" font-size="7.60" font-weight="bold" text-anchor="end" >0</text>
<line x1="308.80" y1="457.40" x2="311.00" y2="457.40" stroke="#000" stroke-width="1.2"/>
<line x1="540.20" y1="457.40" x2="542.40" y2="457.40" stroke="#000" stroke-width="1.2"/>
<text x="307.20" y="460.20" font-size="7.60" font-weight="bold" text-anchor="end" >&#8722;15</text>
<line x1="308.80" y1="484.80" x2="311.00" y2="484.80" stroke="#000" stroke-width="1.2"/>
<line x1="540.20" y1="484.80" x2="542.40" y2="484.80" stroke="#000" stroke-width="1.2"/>
<text x="307.20" y="487.60" font-size="7.60" font-weight="bold" text-anchor="end" >&#8722;20</text>
<line x1="308.80" y1="512.00" x2="311.00" y2="512.00" stroke="#000" stroke-width="1.2"/>
<line x1="540.20" y1="512.00" x2="542.40" y2="512.00" stroke="#000" stroke-width="1.2"/>
<text x="307.20" y="514.80" font-size="7.60" font-weight="bold" text-anchor="end" >&#8722;25</text>
<line x1="308.80" y1="538.80" x2="311.00" y2="538.80" stroke="#000" stroke-width="1.2"/>
<line x1="540.20" y1="538.80" x2="542.40" y2="538.80" stroke="#000" stroke-width="1.2"/>
<text x="307.20" y="541.60" font-size="7.60" font-weight="bold" text-anchor="end" >&#8722;30</text>
<line x1="311.00" y1="538.80" x2="311.00" y2="540.60" stroke="#000" stroke-width="1.2"/>
<line x1="311.00" y1="404.00" x2="311.00" y2="405.80" stroke="#000" stroke-width="1.2"/>
<text x="311.00" y="548.10" font-size="7.60" font-weight="bold" text-anchor="middle" >0</text>
<line x1="336.47" y1="538.80" x2="336.47" y2="540.60" stroke="#000" stroke-width="1.2"/>
<line x1="336.47" y1="404.00" x2="336.47" y2="405.80" stroke="#000" stroke-width="1.2"/>
<text x="336.47" y="548.10" font-size="7.60" font-weight="bold" text-anchor="middle" >5</text>
<line x1="361.93" y1="538.80" x2="361.93" y2="540.60" stroke="#000" stroke-width="1.2"/>
<line x1="361.93" y1="404.00" x2="361.93" y2="405.80" stroke="#000" stroke-width="1.2"/>
<text x="361.93" y="548.10" font-size="7.60" font-weight="bold" text-anchor="middle" >10</text>
<line x1="387.40" y1="538.80" x2="387.40" y2="540.60" stroke="#000" stroke-width="1.2"/>
<line x1="387.40" y1="404.00" x2="387.40" y2="405.80" stroke="#000" stroke-width="1.2"/>
<text x="387.40" y="548.10" font-size="7.60" font-weight="bold" text-anchor="middle" >15</text>
<line x1="412.87" y1="538.80" x2="412.87" y2="540.60" stroke="#000" stroke-width="1.2"/>
<line x1="412.87" y1="404.00" x2="412.87" y2="405.80" stroke="#000" stroke-width="1.2"/>
<text x="412.87" y="548.10" font-size="7.60" font-weight="bold" text-anchor="middle" >20</text>
<line x1="438.33" y1="538.80" x2="438.33" y2="540.60" stroke="#000" stroke-width="1.2"/>
<line x1="438.33" y1="404.00" x2="438.33" y2="405.80" stroke="#000" stroke-width="1.2"/>
<text x="438.33" y="548.10" font-size="7.60" font-weight="bold" text-anchor="middle" >25</text>
<line x1="463.80" y1="538.80" x2="463.80" y2="540.60" stroke="#000" stroke-width="1.2"/>
<line x1="463.80" y1="404.00" x2="463.80" y2="405.80" stroke="#000" stroke-width="1.2"/>
<text x="463.80" y="548.10" font-size="7.60" font-weight="bold" text-anchor="middle" >30</text>
<line x1="489.27" y1="538.80" x2="489.27" y2="540.60" stroke="#000" stroke-width="1.2"/>
<line x1="489.27" y1="404.00" x2="489.27" y2="405.80" stroke="#000" stroke-width="1.2"/>
<text x="489.27" y="548.10" font-size="7.60" font-weight="bold" text-anchor="middle" >35</text>
<line x1="514.73" y1="538.80" x2="514.73" y2="540.60" stroke="#000" stroke-width="1.2"/>
<line x1="514.73" y1="404.00" x2="514.73" y2="405.80" stroke="#000" stroke-width="1.2"/>
<text x="514.73" y="548.10" font-size="7.60" font-weight="bold" text-anchor="middle" >40</text>
<line x1="540.20" y1="538.80" x2="540.20" y2="540.60" stroke="#000" stroke-width="1.2"/>
<line x1="540.20" y1="404.00" x2="540.20" y2="405.80" stroke="#000" stroke-width="1.2"/>
<text x="540.20" y="548.10" font-size="7.60" font-weight="bold" text-anchor="middle" >45</text>
<rect x="309.20" y="444.80" width="3.6" height="1.8" fill="#fff"/>
<path d="M308.60,445.10 L313.40,443.10 M308.60,448.30 L313.40,446.30" fill="none" stroke="#000" stroke-width="1.5"/>
<rect x="538.40" y="444.80" width="3.6" height="1.8" fill="#fff"/>
<path d="M537.80,445.10 L542.60,443.10 M537.80,448.30 L542.60,446.30" fill="none" stroke="#000" stroke-width="1.5"/>
<text x="425.60" y="561.20" font-size="10.20" font-weight="bold" text-anchor="middle"  stroke="#111" stroke-width="0.22">Cycle number</text>
<text x="425.60" y="398.80" font-size="9.60" font-weight="bold" text-anchor="middle"  stroke="#111" stroke-width="0.22">Estimated error</text>
<text x="0" y="0" font-size="9.00" font-weight="bold" text-anchor="middle" stroke="#111" stroke-width="0.25" textLength="37.2" lengthAdjust="spacingAndGlyphs" transform="translate(289.9,471.80) rotate(-90)">Error (%)</text>
<rect x="472.80" y="509.00" width="60.80" height="24.60" fill="#fff" stroke="#333" stroke-width="1.1"/>
<line x1="473.30" y1="515.50" x2="495.30" y2="515.50" stroke="#0d64a8" stroke-width="1.6"/>
<circle cx="484.30" cy="515.50" r="1.7" fill="#0d64a8"/>
<text x="494.80" y="518.40" font-size="8.60" font-weight="bold" text-anchor="start" textLength="34.2" lengthAdjust="spacingAndGlyphs" stroke="#111" stroke-width="0.22">Before TL</text>
<line x1="473.30" y1="527.00" x2="495.30" y2="527.00" stroke="#ffc000" stroke-width="1.6"/>
<circle cx="484.30" cy="527.00" r="1.7" fill="#ffc000"/>
<text x="494.80" y="529.90" font-size="8.60" font-weight="bold" text-anchor="start" textLength="30.2" lengthAdjust="spacingAndGlyphs" stroke="#111" stroke-width="0.22">After TL</text>
<line x1="333.92" y1="599.20" x2="333.92" y2="733.40" stroke="#8e8e8e" stroke-width="1.25"/>
<line x1="356.84" y1="599.20" x2="356.84" y2="733.40" stroke="#8e8e8e" stroke-width="1.25"/>
<line x1="379.76" y1="599.20" x2="379.76" y2="733.40" stroke="#8e8e8e" stroke-width="1.25"/>
<line x1="402.68" y1="599.20" x2="402.68" y2="733.40" stroke="#8e8e8e" stroke-width="1.25"/>
<line x1="425.60" y1="599.20" x2="425.60" y2="733.40" stroke="#8e8e8e" stroke-width="1.25"/>
<line x1="448.52" y1="599.20" x2="448.52" y2="733.40" stroke="#8e8e8e" stroke-width="1.25"/>
<line x1="471.44" y1="599.20" x2="471.44" y2="733.40" stroke="#8e8e8e" stroke-width="1.25"/>
<line x1="494.36" y1="599.20" x2="494.36" y2="733.40" stroke="#8e8e8e" stroke-width="1.25"/>
<line x1="517.28" y1="599.20" x2="517.28" y2="733.40" stroke="#8e8e8e" stroke-width="1.25"/>
<line x1="311.00" y1="624.80" x2="540.20" y2="624.80" stroke="#8e8e8e" stroke-width="1.25"/>
<line x1="311.00" y1="657.30" x2="540.20" y2="657.30" stroke="#8e8e8e" stroke-width="1.25"/>
<line x1="311.00" y1="682.90" x2="540.20" y2="682.90" stroke="#8e8e8e" stroke-width="1.25"/>
<line x1="311.00" y1="708.20" x2="540.20" y2="708.20" stroke="#8e8e8e" stroke-width="1.25"/>
<polyline points="311.00,711.85 315.58,710.31 320.17,708.56 324.75,707.37 329.34,705.99 333.92,704.75 338.50,703.80 343.09,702.99 347.67,702.04 352.26,700.83 356.84,699.76 361.42,698.83 366.01,697.93 370.59,696.60 375.18,695.59 379.76,694.45 384.34,689.75 388.93,688.67 393.51,687.48 398.10,686.55 402.68,685.75 407.26,684.67 411.85,683.55 416.43,682.12 421.02,680.99 425.60,680.10 430.18,678.83 434.77,677.65 439.35,676.54 443.94,675.75 448.52,674.31 453.10,673.27 457.69,672.01 462.27,670.88 466.86,669.94 471.44,668.85 476.02,667.55 480.61,666.49 485.19,665.77 489.78,664.53 494.36,663.45 498.94,662.28 503.53,660.41 508.11,658.99 512.70,657.15" fill="none" stroke="#0d64a8" stroke-width="1.70" stroke-linejoin="round"/>
<circle cx="311.00" cy="711.85" r="1.85" fill="#0d64a8"/>
<circle cx="315.58" cy="710.31" r="1.85" fill="#0d64a8"/>
<circle cx="320.17" cy="708.56" r="1.85" fill="#0d64a8"/>
<circle cx="324.75" cy="707.37" r="1.85" fill="#0d64a8"/>
<circle cx="329.34" cy="705.99" r="1.85" fill="#0d64a8"/>
<circle cx="333.92" cy="704.75" r="1.85" fill="#0d64a8"/>
<circle cx="338.50" cy="703.80" r="1.85" fill="#0d64a8"/>
<circle cx="343.09" cy="702.99" r="1.85" fill="#0d64a8"/>
<circle cx="347.67" cy="702.04" r="1.85" fill="#0d64a8"/>
<circle cx="352.26" cy="700.83" r="1.85" fill="#0d64a8"/>
<circle cx="356.84" cy="699.76" r="1.85" fill="#0d64a8"/>
<circle cx="361.42" cy="698.83" r="1.85" fill="#0d64a8"/>
<circle cx="366.01" cy="697.93" r="1.85" fill="#0d64a8"/>
<circle cx="370.59" cy="696.60" r="1.85" fill="#0d64a8"/>
<circle cx="375.18" cy="695.59" r="1.85" fill="#0d64a8"/>
<circle cx="379.76" cy="694.45" r="1.85" fill="#0d64a8"/>
<circle cx="384.34" cy="689.75" r="1.85" fill="#0d64a8"/>
<circle cx="388.93" cy="688.67" r="1.85" fill="#0d64a8"/>
<circle cx="393.51" cy="687.48" r="1.85" fill="#0d64a8"/>
<circle cx="398.10" cy="686.55" r="1.85" fill="#0d64a8"/>
<circle cx="402.68" cy="685.75" r="1.85" fill="#0d64a8"/>
<circle cx="407.26" cy="684.67" r="1.85" fill="#0d64a8"/>
<circle cx="411.85" cy="683.55" r="1.85" fill="#0d64a8"/>
<circle cx="416.43" cy="682.12" r="1.85" fill="#0d64a8"/>
<circle cx="421.02" cy="680.99" r="1.85" fill="#0d64a8"/>
<circle cx="425.60" cy="680.10" r="1.85" fill="#0d64a8"/>
<circle cx="430.18" cy="678.83" r="1.85" fill="#0d64a8"/>
<circle cx="434.77" cy="677.65" r="1.85" fill="#0d64a8"/>
<circle cx="439.35" cy="676.54" r="1.85" fill="#0d64a8"/>
<circle cx="443.94" cy="675.75" r="1.85" fill="#0d64a8"/>
<circle cx="448.52" cy="674.31" r="1.85" fill="#0d64a8"/>
<circle cx="453.10" cy="673.27" r="1.85" fill="#0d64a8"/>
<circle cx="457.69" cy="672.01" r="1.85" fill="#0d64a8"/>
<circle cx="462.27" cy="670.88" r="1.85" fill="#0d64a8"/>
<circle cx="466.86" cy="669.94" r="1.85" fill="#0d64a8"/>
<circle cx="471.44" cy="668.85" r="1.85" fill="#0d64a8"/>
<circle cx="476.02" cy="667.55" r="1.85" fill="#0d64a8"/>
<circle cx="480.61" cy="666.49" r="1.85" fill="#0d64a8"/>
<circle cx="485.19" cy="665.77" r="1.85" fill="#0d64a8"/>
<circle cx="489.78" cy="664.53" r="1.85" fill="#0d64a8"/>
<circle cx="494.36" cy="663.45" r="1.85" fill="#0d64a8"/>
<circle cx="498.94" cy="662.28" r="1.85" fill="#0d64a8"/>
<circle cx="503.53" cy="660.41" r="1.85" fill="#0d64a8"/>
<circle cx="508.11" cy="658.99" r="1.85" fill="#0d64a8"/>
<circle cx="512.70" cy="657.15" r="1.85" fill="#0d64a8"/>
<polyline points="311.00,628.27 315.58,628.09 320.17,628.00 324.75,628.02 329.34,628.52 333.92,628.70 338.50,629.05 343.09,628.63 347.67,629.17 352.26,629.15 356.84,629.40 361.42,629.25 366.01,628.72 370.59,628.26 375.18,627.92 379.76,626.73 384.34,626.79 388.93,626.81 393.51,626.73 398.10,625.99 402.68,625.74 407.26,626.34 411.85,626.38 416.43,626.06 421.02,625.79 425.60,626.42 430.18,626.07 434.77,626.46 439.35,626.28 443.94,626.45 448.52,626.01 453.10,626.48 457.69,626.11 462.27,626.26 466.86,626.59 471.44,626.61 476.02,626.18 480.61,626.23 485.19,626.38 489.78,626.49 494.36,626.42 498.94,626.26 503.53,626.37 508.11,626.73 512.70,626.88" fill="none" stroke="#ffc000" stroke-width="1.70" stroke-linejoin="round"/>
<circle cx="311.00" cy="628.27" r="1.85" fill="#ffc000"/>
<circle cx="315.58" cy="628.09" r="1.85" fill="#ffc000"/>
<circle cx="320.17" cy="628.00" r="1.85" fill="#ffc000"/>
<circle cx="324.75" cy="628.02" r="1.85" fill="#ffc000"/>
<circle cx="329.34" cy="628.52" r="1.85" fill="#ffc000"/>
<circle cx="333.92" cy="628.70" r="1.85" fill="#ffc000"/>
<circle cx="338.50" cy="629.05" r="1.85" fill="#ffc000"/>
<circle cx="343.09" cy="628.63" r="1.85" fill="#ffc000"/>
<circle cx="347.67" cy="629.17" r="1.85" fill="#ffc000"/>
<circle cx="352.26" cy="629.15" r="1.85" fill="#ffc000"/>
<circle cx="356.84" cy="629.40" r="1.85" fill="#ffc000"/>
<circle cx="361.42" cy="629.25" r="1.85" fill="#ffc000"/>
<circle cx="366.01" cy="628.72" r="1.85" fill="#ffc000"/>
<circle cx="370.59" cy="628.26" r="1.85" fill="#ffc000"/>
<circle cx="375.18" cy="627.92" r="1.85" fill="#ffc000"/>
<circle cx="379.76" cy="626.73" r="1.85" fill="#ffc000"/>
<circle cx="384.34" cy="626.79" r="1.85" fill="#ffc000"/>
<circle cx="388.93" cy="626.81" r="1.85" fill="#ffc000"/>
<circle cx="393.51" cy="626.73" r="1.85" fill="#ffc000"/>
<circle cx="398.10" cy="625.99" r="1.85" fill="#ffc000"/>
<circle cx="402.68" cy="625.74" r="1.85" fill="#ffc000"/>
<circle cx="407.26" cy="626.34" r="1.85" fill="#ffc000"/>
<circle cx="411.85" cy="626.38" r="1.85" fill="#ffc000"/>
<circle cx="416.43" cy="626.06" r="1.85" fill="#ffc000"/>
<circle cx="421.02" cy="625.79" r="1.85" fill="#ffc000"/>
<circle cx="425.60" cy="626.42" r="1.85" fill="#ffc000"/>
<circle cx="430.18" cy="626.07" r="1.85" fill="#ffc000"/>
<circle cx="434.77" cy="626.46" r="1.85" fill="#ffc000"/>
<circle cx="439.35" cy="626.28" r="1.85" fill="#ffc000"/>
<circle cx="443.94" cy="626.45" r="1.85" fill="#ffc000"/>
<circle cx="448.52" cy="626.01" r="1.85" fill="#ffc000"/>
<circle cx="453.10" cy="626.48" r="1.85" fill="#ffc000"/>
<circle cx="457.69" cy="626.11" r="1.85" fill="#ffc000"/>
<circle cx="462.27" cy="626.26" r="1.85" fill="#ffc000"/>
<circle cx="466.86" cy="626.59" r="1.85" fill="#ffc000"/>
<circle cx="471.44" cy="626.61" r="1.85" fill="#ffc000"/>
<circle cx="476.02" cy="626.18" r="1.85" fill="#ffc000"/>
<circle cx="480.61" cy="626.23" r="1.85" fill="#ffc000"/>
<circle cx="485.19" cy="626.38" r="1.85" fill="#ffc000"/>
<circle cx="489.78" cy="626.49" r="1.85" fill="#ffc000"/>
<circle cx="494.36" cy="626.42" r="1.85" fill="#ffc000"/>
<circle cx="498.94" cy="626.26" r="1.85" fill="#ffc000"/>
<circle cx="503.53" cy="626.37" r="1.85" fill="#ffc000"/>
<circle cx="508.11" cy="626.73" r="1.85" fill="#ffc000"/>
<circle cx="512.70" cy="626.88" r="1.85" fill="#ffc000"/>
<rect x="311.00" y="599.20" width="229.20" height="134.20" fill="none" stroke="#000" stroke-width="1.75"/>
<line x1="308.80" y1="599.20" x2="311.00" y2="599.20" stroke="#000" stroke-width="1.2"/>
<line x1="540.20" y1="599.20" x2="542.40" y2="599.20" stroke="#000" stroke-width="1.2"/>
<text x="307.20" y="602.00" font-size="7.60" font-weight="bold" text-anchor="end" >5</text>
<line x1="308.80" y1="624.80" x2="311.00" y2="624.80" stroke="#000" stroke-width="1.2"/>
<line x1="540.20" y1="624.80" x2="542.40" y2="624.80" stroke="#000" stroke-width="1.2"/>
<text x="307.20" y="627.60" font-size="7.60" font-weight="bold" text-anchor="end" >0</text>
<line x1="308.80" y1="657.30" x2="311.00" y2="657.30" stroke="#000" stroke-width="1.2"/>
<line x1="540.20" y1="657.30" x2="542.40" y2="657.30" stroke="#000" stroke-width="1.2"/>
<text x="307.20" y="660.10" font-size="7.60" font-weight="bold" text-anchor="end" >&#8722;15</text>
<line x1="308.80" y1="682.90" x2="311.00" y2="682.90" stroke="#000" stroke-width="1.2"/>
<line x1="540.20" y1="682.90" x2="542.40" y2="682.90" stroke="#000" stroke-width="1.2"/>
<text x="307.20" y="685.70" font-size="7.60" font-weight="bold" text-anchor="end" >&#8722;20</text>
<line x1="308.80" y1="708.20" x2="311.00" y2="708.20" stroke="#000" stroke-width="1.2"/>
<line x1="540.20" y1="708.20" x2="542.40" y2="708.20" stroke="#000" stroke-width="1.2"/>
<text x="307.20" y="711.00" font-size="7.60" font-weight="bold" text-anchor="end" >&#8722;25</text>
<line x1="308.80" y1="733.40" x2="311.00" y2="733.40" stroke="#000" stroke-width="1.2"/>
<line x1="540.20" y1="733.40" x2="542.40" y2="733.40" stroke="#000" stroke-width="1.2"/>
<text x="307.20" y="736.20" font-size="7.60" font-weight="bold" text-anchor="end" >&#8722;30</text>
<line x1="311.00" y1="733.40" x2="311.00" y2="735.20" stroke="#000" stroke-width="1.2"/>
<line x1="311.00" y1="597.40" x2="311.00" y2="599.20" stroke="#000" stroke-width="1.2"/>
<text x="311.00" y="742.70" font-size="7.60" font-weight="bold" text-anchor="middle" >0</text>
<line x1="333.92" y1="733.40" x2="333.92" y2="735.20" stroke="#000" stroke-width="1.2"/>
<line x1="333.92" y1="597.40" x2="333.92" y2="599.20" stroke="#000" stroke-width="1.2"/>
<text x="333.92" y="742.70" font-size="7.60" font-weight="bold" text-anchor="middle" >5</text>
<line x1="356.84" y1="733.40" x2="356.84" y2="735.20" stroke="#000" stroke-width="1.2"/>
<line x1="356.84" y1="597.40" x2="356.84" y2="599.20" stroke="#000" stroke-width="1.2"/>
<text x="356.84" y="742.70" font-size="7.60" font-weight="bold" text-anchor="middle" >10</text>
<line x1="379.76" y1="733.40" x2="379.76" y2="735.20" stroke="#000" stroke-width="1.2"/>
<line x1="379.76" y1="597.40" x2="379.76" y2="599.20" stroke="#000" stroke-width="1.2"/>
<text x="379.76" y="742.70" font-size="7.60" font-weight="bold" text-anchor="middle" >15</text>
<line x1="402.68" y1="733.40" x2="402.68" y2="735.20" stroke="#000" stroke-width="1.2"/>
<line x1="402.68" y1="597.40" x2="402.68" y2="599.20" stroke="#000" stroke-width="1.2"/>
<text x="402.68" y="742.70" font-size="7.60" font-weight="bold" text-anchor="middle" >20</text>
<line x1="425.60" y1="733.40" x2="425.60" y2="735.20" stroke="#000" stroke-width="1.2"/>
<line x1="425.60" y1="597.40" x2="425.60" y2="599.20" stroke="#000" stroke-width="1.2"/>
<text x="425.60" y="742.70" font-size="7.60" font-weight="bold" text-anchor="middle" >25</text>
<line x1="448.52" y1="733.40" x2="448.52" y2="735.20" stroke="#000" stroke-width="1.2"/>
<line x1="448.52" y1="597.40" x2="448.52" y2="599.20" stroke="#000" stroke-width="1.2"/>
<text x="448.52" y="742.70" font-size="7.60" font-weight="bold" text-anchor="middle" >30</text>
<line x1="471.44" y1="733.40" x2="471.44" y2="735.20" stroke="#000" stroke-width="1.2"/>
<line x1="471.44" y1="597.40" x2="471.44" y2="599.20" stroke="#000" stroke-width="1.2"/>
<text x="471.44" y="742.70" font-size="7.60" font-weight="bold" text-anchor="middle" >35</text>
<line x1="494.36" y1="733.40" x2="494.36" y2="735.20" stroke="#000" stroke-width="1.2"/>
<line x1="494.36" y1="597.40" x2="494.36" y2="599.20" stroke="#000" stroke-width="1.2"/>
<text x="494.36" y="742.70" font-size="7.60" font-weight="bold" text-anchor="middle" >40</text>
<line x1="517.28" y1="733.40" x2="517.28" y2="735.20" stroke="#000" stroke-width="1.2"/>
<line x1="517.28" y1="597.40" x2="517.28" y2="599.20" stroke="#000" stroke-width="1.2"/>
<text x="517.28" y="742.70" font-size="7.60" font-weight="bold" text-anchor="middle" >45</text>
<line x1="540.20" y1="733.40" x2="540.20" y2="735.20" stroke="#000" stroke-width="1.2"/>
<line x1="540.20" y1="597.40" x2="540.20" y2="599.20" stroke="#000" stroke-width="1.2"/>
<text x="540.20" y="742.70" font-size="7.60" font-weight="bold" text-anchor="middle" >50</text>
<rect x="309.20" y="645.60" width="3.6" height="1.8" fill="#fff"/>
<path d="M308.60,645.90 L313.40,643.90 M308.60,649.10 L313.40,647.10" fill="none" stroke="#000" stroke-width="1.5"/>
<rect x="538.40" y="645.60" width="3.6" height="1.8" fill="#fff"/>
<path d="M537.80,645.90 L542.60,643.90 M537.80,649.10 L542.60,647.10" fill="none" stroke="#000" stroke-width="1.5"/>
<text x="425.60" y="755.80" font-size="10.20" font-weight="bold" text-anchor="middle"  stroke="#111" stroke-width="0.22">Cycle number</text>
<text x="425.60" y="592.20" font-size="9.60" font-weight="bold" text-anchor="middle"  stroke="#111" stroke-width="0.22">Estimated error</text>
<text x="0" y="0" font-size="9.00" font-weight="bold" text-anchor="middle" stroke="#111" stroke-width="0.25" textLength="37.2" lengthAdjust="spacingAndGlyphs" transform="translate(289.9,665.80) rotate(-90)">Error (%)</text>
<rect x="472.80" y="703.30" width="60.80" height="24.10" fill="#fff" stroke="#333" stroke-width="1.1"/>
<line x1="473.30" y1="709.70" x2="495.30" y2="709.70" stroke="#0d64a8" stroke-width="1.6"/>
<circle cx="484.30" cy="709.70" r="1.7" fill="#0d64a8"/>
<text x="494.80" y="712.60" font-size="8.60" font-weight="bold" text-anchor="start" textLength="34.2" lengthAdjust="spacingAndGlyphs" stroke="#111" stroke-width="0.22">Before TL</text>
<line x1="473.30" y1="721.40" x2="495.30" y2="721.40" stroke="#ffc000" stroke-width="1.6"/>
<circle cx="484.30" cy="721.40" r="1.7" fill="#ffc000"/>
<text x="494.80" y="724.30" font-size="8.60" font-weight="bold" text-anchor="start" textLength="30.2" lengthAdjust="spacingAndGlyphs" stroke="#111" stroke-width="0.22">After TL</text>
<rect x="267.3" y="735" width="8" height="10" fill="#fff"/>
</svg>
</body></html>
